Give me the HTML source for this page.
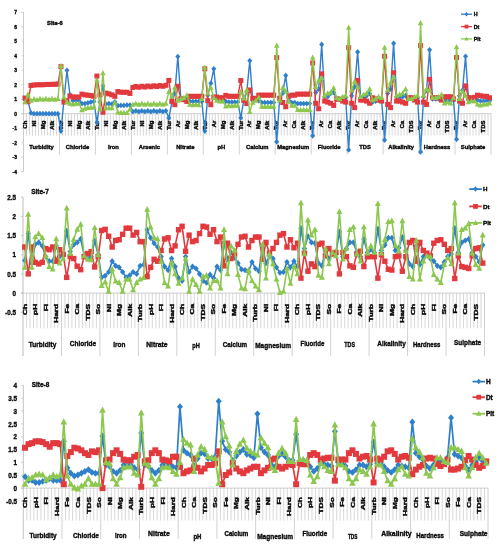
<!DOCTYPE html>
<html><head><meta charset="utf-8"><title>Site-6, Site-7, Site-8</title>
<style>
html,body{margin:0;padding:0;background:#fff;}
body{width:503px;height:550px;overflow:hidden;}
svg{display:block;font-family:'Liberation Sans', Arial, sans-serif;}
text{stroke:#0a0a0a;stroke-width:0.38px;paint-order:stroke;}
</style></head><body>
<svg width="503" height="550" viewBox="0 0 503 550">
<rect width="503" height="550" fill="#fff"/>
<g stroke="#bebebe" stroke-width="0.6">
<line x1="26.5" y1="113.7" x2="26.5" y2="135.5"/>
<line x1="29.49" y1="113.7" x2="29.49" y2="135.5"/>
<line x1="32.49" y1="113.7" x2="32.49" y2="135.5"/>
<line x1="35.49" y1="113.7" x2="35.49" y2="135.5"/>
<line x1="38.48" y1="113.7" x2="38.48" y2="135.5"/>
<line x1="41.48" y1="113.7" x2="41.48" y2="135.5"/>
<line x1="44.48" y1="113.7" x2="44.48" y2="135.5"/>
<line x1="47.47" y1="113.7" x2="47.47" y2="135.5"/>
<line x1="50.47" y1="113.7" x2="50.47" y2="135.5"/>
<line x1="53.47" y1="113.7" x2="53.47" y2="135.5"/>
<line x1="56.46" y1="113.7" x2="56.46" y2="135.5"/>
<line x1="62.46" y1="113.7" x2="62.46" y2="135.5"/>
<line x1="65.46" y1="113.7" x2="65.46" y2="135.5"/>
<line x1="68.45" y1="113.7" x2="68.45" y2="135.5"/>
<line x1="71.45" y1="113.7" x2="71.45" y2="135.5"/>
<line x1="74.45" y1="113.7" x2="74.45" y2="135.5"/>
<line x1="77.44" y1="113.7" x2="77.44" y2="135.5"/>
<line x1="80.44" y1="113.7" x2="80.44" y2="135.5"/>
<line x1="83.44" y1="113.7" x2="83.44" y2="135.5"/>
<line x1="86.43" y1="113.7" x2="86.43" y2="135.5"/>
<line x1="89.43" y1="113.7" x2="89.43" y2="135.5"/>
<line x1="92.43" y1="113.7" x2="92.43" y2="135.5"/>
<line x1="98.42" y1="113.7" x2="98.42" y2="135.5"/>
<line x1="101.42" y1="113.7" x2="101.42" y2="135.5"/>
<line x1="104.41" y1="113.7" x2="104.41" y2="135.5"/>
<line x1="107.41" y1="113.7" x2="107.41" y2="135.5"/>
<line x1="110.41" y1="113.7" x2="110.41" y2="135.5"/>
<line x1="113.4" y1="113.7" x2="113.4" y2="135.5"/>
<line x1="116.4" y1="113.7" x2="116.4" y2="135.5"/>
<line x1="119.4" y1="113.7" x2="119.4" y2="135.5"/>
<line x1="122.39" y1="113.7" x2="122.39" y2="135.5"/>
<line x1="125.39" y1="113.7" x2="125.39" y2="135.5"/>
<line x1="128.39" y1="113.7" x2="128.39" y2="135.5"/>
<line x1="134.38" y1="113.7" x2="134.38" y2="135.5"/>
<line x1="137.38" y1="113.7" x2="137.38" y2="135.5"/>
<line x1="140.38" y1="113.7" x2="140.38" y2="135.5"/>
<line x1="143.37" y1="113.7" x2="143.37" y2="135.5"/>
<line x1="146.37" y1="113.7" x2="146.37" y2="135.5"/>
<line x1="149.37" y1="113.7" x2="149.37" y2="135.5"/>
<line x1="152.36" y1="113.7" x2="152.36" y2="135.5"/>
<line x1="155.36" y1="113.7" x2="155.36" y2="135.5"/>
<line x1="158.36" y1="113.7" x2="158.36" y2="135.5"/>
<line x1="161.35" y1="113.7" x2="161.35" y2="135.5"/>
<line x1="164.35" y1="113.7" x2="164.35" y2="135.5"/>
<line x1="170.34" y1="113.7" x2="170.34" y2="135.5"/>
<line x1="173.34" y1="113.7" x2="173.34" y2="135.5"/>
<line x1="176.34" y1="113.7" x2="176.34" y2="135.5"/>
<line x1="179.33" y1="113.7" x2="179.33" y2="135.5"/>
<line x1="182.33" y1="113.7" x2="182.33" y2="135.5"/>
<line x1="185.33" y1="113.7" x2="185.33" y2="135.5"/>
<line x1="188.32" y1="113.7" x2="188.32" y2="135.5"/>
<line x1="191.32" y1="113.7" x2="191.32" y2="135.5"/>
<line x1="194.32" y1="113.7" x2="194.32" y2="135.5"/>
<line x1="197.31" y1="113.7" x2="197.31" y2="135.5"/>
<line x1="200.31" y1="113.7" x2="200.31" y2="135.5"/>
<line x1="206.3" y1="113.7" x2="206.3" y2="135.5"/>
<line x1="209.3" y1="113.7" x2="209.3" y2="135.5"/>
<line x1="212.3" y1="113.7" x2="212.3" y2="135.5"/>
<line x1="215.29" y1="113.7" x2="215.29" y2="135.5"/>
<line x1="218.29" y1="113.7" x2="218.29" y2="135.5"/>
<line x1="221.29" y1="113.7" x2="221.29" y2="135.5"/>
<line x1="224.29" y1="113.7" x2="224.29" y2="135.5"/>
<line x1="227.28" y1="113.7" x2="227.28" y2="135.5"/>
<line x1="230.28" y1="113.7" x2="230.28" y2="135.5"/>
<line x1="233.28" y1="113.7" x2="233.28" y2="135.5"/>
<line x1="236.27" y1="113.7" x2="236.27" y2="135.5"/>
<line x1="242.27" y1="113.7" x2="242.27" y2="135.5"/>
<line x1="245.26" y1="113.7" x2="245.26" y2="135.5"/>
<line x1="248.26" y1="113.7" x2="248.26" y2="135.5"/>
<line x1="251.26" y1="113.7" x2="251.26" y2="135.5"/>
<line x1="254.25" y1="113.7" x2="254.25" y2="135.5"/>
<line x1="257.25" y1="113.7" x2="257.25" y2="135.5"/>
<line x1="260.25" y1="113.7" x2="260.25" y2="135.5"/>
<line x1="263.24" y1="113.7" x2="263.24" y2="135.5"/>
<line x1="266.24" y1="113.7" x2="266.24" y2="135.5"/>
<line x1="269.24" y1="113.7" x2="269.24" y2="135.5"/>
<line x1="272.23" y1="113.7" x2="272.23" y2="135.5"/>
<line x1="278.23" y1="113.7" x2="278.23" y2="135.5"/>
<line x1="281.22" y1="113.7" x2="281.22" y2="135.5"/>
<line x1="284.22" y1="113.7" x2="284.22" y2="135.5"/>
<line x1="287.22" y1="113.7" x2="287.22" y2="135.5"/>
<line x1="290.21" y1="113.7" x2="290.21" y2="135.5"/>
<line x1="293.21" y1="113.7" x2="293.21" y2="135.5"/>
<line x1="296.21" y1="113.7" x2="296.21" y2="135.5"/>
<line x1="299.21" y1="113.7" x2="299.21" y2="135.5"/>
<line x1="302.2" y1="113.7" x2="302.2" y2="135.5"/>
<line x1="305.2" y1="113.7" x2="305.2" y2="135.5"/>
<line x1="308.2" y1="113.7" x2="308.2" y2="135.5"/>
<line x1="314.19" y1="113.7" x2="314.19" y2="135.5"/>
<line x1="317.19" y1="113.7" x2="317.19" y2="135.5"/>
<line x1="320.18" y1="113.7" x2="320.18" y2="135.5"/>
<line x1="323.18" y1="113.7" x2="323.18" y2="135.5"/>
<line x1="326.18" y1="113.7" x2="326.18" y2="135.5"/>
<line x1="329.17" y1="113.7" x2="329.17" y2="135.5"/>
<line x1="332.17" y1="113.7" x2="332.17" y2="135.5"/>
<line x1="335.17" y1="113.7" x2="335.17" y2="135.5"/>
<line x1="338.16" y1="113.7" x2="338.16" y2="135.5"/>
<line x1="341.16" y1="113.7" x2="341.16" y2="135.5"/>
<line x1="344.16" y1="113.7" x2="344.16" y2="135.5"/>
<line x1="350.15" y1="113.7" x2="350.15" y2="135.5"/>
<line x1="353.15" y1="113.7" x2="353.15" y2="135.5"/>
<line x1="356.14" y1="113.7" x2="356.14" y2="135.5"/>
<line x1="359.14" y1="113.7" x2="359.14" y2="135.5"/>
<line x1="362.14" y1="113.7" x2="362.14" y2="135.5"/>
<line x1="365.13" y1="113.7" x2="365.13" y2="135.5"/>
<line x1="368.13" y1="113.7" x2="368.13" y2="135.5"/>
<line x1="371.13" y1="113.7" x2="371.13" y2="135.5"/>
<line x1="374.12" y1="113.7" x2="374.12" y2="135.5"/>
<line x1="377.12" y1="113.7" x2="377.12" y2="135.5"/>
<line x1="380.12" y1="113.7" x2="380.12" y2="135.5"/>
<line x1="386.11" y1="113.7" x2="386.11" y2="135.5"/>
<line x1="389.11" y1="113.7" x2="389.11" y2="135.5"/>
<line x1="392.11" y1="113.7" x2="392.11" y2="135.5"/>
<line x1="395.1" y1="113.7" x2="395.1" y2="135.5"/>
<line x1="398.1" y1="113.7" x2="398.1" y2="135.5"/>
<line x1="401.1" y1="113.7" x2="401.1" y2="135.5"/>
<line x1="404.09" y1="113.7" x2="404.09" y2="135.5"/>
<line x1="407.09" y1="113.7" x2="407.09" y2="135.5"/>
<line x1="410.09" y1="113.7" x2="410.09" y2="135.5"/>
<line x1="413.08" y1="113.7" x2="413.08" y2="135.5"/>
<line x1="416.08" y1="113.7" x2="416.08" y2="135.5"/>
<line x1="422.07" y1="113.7" x2="422.07" y2="135.5"/>
<line x1="425.07" y1="113.7" x2="425.07" y2="135.5"/>
<line x1="428.07" y1="113.7" x2="428.07" y2="135.5"/>
<line x1="431.06" y1="113.7" x2="431.06" y2="135.5"/>
<line x1="434.06" y1="113.7" x2="434.06" y2="135.5"/>
<line x1="437.06" y1="113.7" x2="437.06" y2="135.5"/>
<line x1="440.05" y1="113.7" x2="440.05" y2="135.5"/>
<line x1="443.05" y1="113.7" x2="443.05" y2="135.5"/>
<line x1="446.05" y1="113.7" x2="446.05" y2="135.5"/>
<line x1="449.04" y1="113.7" x2="449.04" y2="135.5"/>
<line x1="452.04" y1="113.7" x2="452.04" y2="135.5"/>
<line x1="458.04" y1="113.7" x2="458.04" y2="135.5"/>
<line x1="461.03" y1="113.7" x2="461.03" y2="135.5"/>
<line x1="464.03" y1="113.7" x2="464.03" y2="135.5"/>
<line x1="467.03" y1="113.7" x2="467.03" y2="135.5"/>
<line x1="470.02" y1="113.7" x2="470.02" y2="135.5"/>
<line x1="473.02" y1="113.7" x2="473.02" y2="135.5"/>
<line x1="476.02" y1="113.7" x2="476.02" y2="135.5"/>
<line x1="479.01" y1="113.7" x2="479.01" y2="135.5"/>
<line x1="482.01" y1="113.7" x2="482.01" y2="135.5"/>
<line x1="485.01" y1="113.7" x2="485.01" y2="135.5"/>
<line x1="488" y1="113.7" x2="488" y2="135.5"/>
</g>
<g stroke="#b4b4b4" stroke-width="0.6">
<line x1="59.46" y1="113.7" x2="59.46" y2="154.5"/>
<line x1="95.42" y1="113.7" x2="95.42" y2="154.5"/>
<line x1="131.38" y1="113.7" x2="131.38" y2="154.5"/>
<line x1="167.35" y1="113.7" x2="167.35" y2="154.5"/>
<line x1="203.31" y1="113.7" x2="203.31" y2="154.5"/>
<line x1="239.27" y1="113.7" x2="239.27" y2="154.5"/>
<line x1="275.23" y1="113.7" x2="275.23" y2="154.5"/>
<line x1="311.19" y1="113.7" x2="311.19" y2="154.5"/>
<line x1="347.15" y1="113.7" x2="347.15" y2="154.5"/>
<line x1="383.12" y1="113.7" x2="383.12" y2="154.5"/>
<line x1="419.08" y1="113.7" x2="419.08" y2="154.5"/>
<line x1="455.04" y1="113.7" x2="455.04" y2="154.5"/>
<line x1="491" y1="113.7" x2="491" y2="154.5"/>
</g>
<line x1="21.3" y1="113.7" x2="491" y2="113.7" stroke="#c0c0c0" stroke-width="0.8"/>
<line x1="23.5" y1="12" x2="23.5" y2="171.5" stroke="#c6c6c6" stroke-width="0.9"/>
<g stroke="#c6c6c6" stroke-width="0.7">
<line x1="21.3" y1="12.34" x2="23.5" y2="12.34"/>
<line x1="21.3" y1="26.82" x2="23.5" y2="26.82"/>
<line x1="21.3" y1="41.3" x2="23.5" y2="41.3"/>
<line x1="21.3" y1="55.78" x2="23.5" y2="55.78"/>
<line x1="21.3" y1="70.26" x2="23.5" y2="70.26"/>
<line x1="21.3" y1="84.74" x2="23.5" y2="84.74"/>
<line x1="21.3" y1="99.22" x2="23.5" y2="99.22"/>
<line x1="21.3" y1="113.7" x2="23.5" y2="113.7"/>
<line x1="21.3" y1="128.18" x2="23.5" y2="128.18"/>
<line x1="21.3" y1="142.66" x2="23.5" y2="142.66"/>
<line x1="21.3" y1="157.14" x2="23.5" y2="157.14"/>
<line x1="21.3" y1="171.62" x2="23.5" y2="171.62"/>
</g>
<g font-size="5.6" font-weight="bold" text-anchor="end" fill="#0a0a0a">
<text transform="translate(17 14.36) scale(0.88 1)">7</text>
<text transform="translate(17 28.84) scale(0.88 1)">6</text>
<text transform="translate(17 43.32) scale(0.88 1)">5</text>
<text transform="translate(17 57.8) scale(0.88 1)">4</text>
<text transform="translate(17 72.28) scale(0.88 1)">3</text>
<text transform="translate(17 86.76) scale(0.88 1)">2</text>
<text transform="translate(17 101.24) scale(0.88 1)">1</text>
<text transform="translate(17 115.72) scale(0.88 1)">0</text>
<text transform="translate(17 130.2) scale(0.88 1)">-1</text>
<text transform="translate(17 144.68) scale(0.88 1)">-2</text>
<text transform="translate(17 159.16) scale(0.88 1)">-3</text>
<text transform="translate(17 173.64) scale(0.88 1)">-4</text>
</g>
<g font-size="4.8" font-weight="bold" fill="#0a0a0a" text-anchor="end">
<text transform="translate(26.73 120.7) rotate(-90) scale(1.22 1)">Ch</text>
<text transform="translate(35.72 120.7) rotate(-90) scale(1.22 1)">NI</text>
<text transform="translate(44.71 120.7) rotate(-90) scale(1.22 1)">Mg</text>
<text transform="translate(53.7 120.7) rotate(-90) scale(1.22 1)">Alk</text>
<text transform="translate(62.69 120.7) rotate(-90) scale(1.22 1)">Tur</text>
<text transform="translate(71.68 120.7) rotate(-90) scale(1.22 1)">NI</text>
<text transform="translate(80.67 120.7) rotate(-90) scale(1.22 1)">Mg</text>
<text transform="translate(89.66 120.7) rotate(-90) scale(1.22 1)">Alk</text>
<text transform="translate(98.65 120.7) rotate(-90) scale(1.22 1)">Tur</text>
<text transform="translate(107.64 120.7) rotate(-90) scale(1.22 1)">NI</text>
<text transform="translate(116.63 120.7) rotate(-90) scale(1.22 1)">Mg</text>
<text transform="translate(125.62 120.7) rotate(-90) scale(1.22 1)">Alk</text>
<text transform="translate(134.61 120.7) rotate(-90) scale(1.22 1)">Tur</text>
<text transform="translate(143.6 120.7) rotate(-90) scale(1.22 1)">NI</text>
<text transform="translate(152.59 120.7) rotate(-90) scale(1.22 1)">Mg</text>
<text transform="translate(161.58 120.7) rotate(-90) scale(1.22 1)">Alk</text>
<text transform="translate(170.57 120.7) rotate(-90) scale(1.22 1)">Tur</text>
<text transform="translate(179.56 120.7) rotate(-90) scale(1.22 1)">Ar</text>
<text transform="translate(188.55 120.7) rotate(-90) scale(1.22 1)">Mg</text>
<text transform="translate(197.54 120.7) rotate(-90) scale(1.22 1)">Alk</text>
<text transform="translate(206.53 120.7) rotate(-90) scale(1.22 1)">Tur</text>
<text transform="translate(215.52 120.7) rotate(-90) scale(1.22 1)">Ar</text>
<text transform="translate(224.51 120.7) rotate(-90) scale(1.22 1)">Mg</text>
<text transform="translate(233.51 120.7) rotate(-90) scale(1.22 1)">Alk</text>
<text transform="translate(242.5 120.7) rotate(-90) scale(1.22 1)">Tur</text>
<text transform="translate(251.49 120.7) rotate(-90) scale(1.22 1)">Ar</text>
<text transform="translate(260.48 120.7) rotate(-90) scale(1.22 1)">Mg</text>
<text transform="translate(269.47 120.7) rotate(-90) scale(1.22 1)">Alk</text>
<text transform="translate(278.46 120.7) rotate(-90) scale(1.22 1)">Tur</text>
<text transform="translate(287.45 120.7) rotate(-90) scale(1.22 1)">Ar</text>
<text transform="translate(296.44 120.7) rotate(-90) scale(1.22 1)">Ca</text>
<text transform="translate(305.43 120.7) rotate(-90) scale(1.22 1)">Alk</text>
<text transform="translate(314.42 120.7) rotate(-90) scale(1.22 1)">Tur</text>
<text transform="translate(323.41 120.7) rotate(-90) scale(1.22 1)">Ar</text>
<text transform="translate(332.4 120.7) rotate(-90) scale(1.22 1)">Ca</text>
<text transform="translate(341.39 120.7) rotate(-90) scale(1.22 1)">Alk</text>
<text transform="translate(350.38 120.7) rotate(-90) scale(1.22 1)">Tur</text>
<text transform="translate(359.37 120.7) rotate(-90) scale(1.22 1)">Ar</text>
<text transform="translate(368.36 120.7) rotate(-90) scale(1.22 1)">Ca</text>
<text transform="translate(377.35 120.7) rotate(-90) scale(1.22 1)">Alk</text>
<text transform="translate(386.34 120.7) rotate(-90) scale(1.22 1)">Tur</text>
<text transform="translate(395.33 120.7) rotate(-90) scale(1.22 1)">Ar</text>
<text transform="translate(404.32 120.7) rotate(-90) scale(1.22 1)">Ca</text>
<text transform="translate(413.31 120.7) rotate(-90) scale(1.22 1)">TDS</text>
<text transform="translate(422.3 120.7) rotate(-90) scale(1.22 1)">Tur</text>
<text transform="translate(431.29 120.7) rotate(-90) scale(1.22 1)">Ar</text>
<text transform="translate(440.28 120.7) rotate(-90) scale(1.22 1)">Ca</text>
<text transform="translate(449.27 120.7) rotate(-90) scale(1.22 1)">TDS</text>
<text transform="translate(458.26 120.7) rotate(-90) scale(1.22 1)">Tur</text>
<text transform="translate(467.26 120.7) rotate(-90) scale(1.22 1)">Ar</text>
<text transform="translate(476.25 120.7) rotate(-90) scale(1.22 1)">Ca</text>
<text transform="translate(485.24 120.7) rotate(-90) scale(1.22 1)">TDS</text>
</g>
<g font-size="5.8" font-weight="bold" fill="#0a0a0a" text-anchor="middle">
<text transform="translate(41.48 149) scale(1 1)">Turbidity</text>
<text transform="translate(77.44 149) scale(1 1)">Chloride</text>
<text transform="translate(113.4 149) scale(1 1)">Iron</text>
<text transform="translate(149.37 149) scale(1 1)">Arsenic</text>
<text transform="translate(185.33 149) scale(1 1)">Nitrate</text>
<text transform="translate(221.29 149) scale(1 1)">pH</text>
<text transform="translate(257.25 149) scale(1 1)">Calcium</text>
<text transform="translate(293.21 149) scale(1 1)">Magnesium</text>
<text transform="translate(329.17 149) scale(1 1)">Fluoride</text>
<text transform="translate(365.13 149) scale(1 1)">TDS</text>
<text transform="translate(401.1 149) scale(1 1)">Alkalinity</text>
<text transform="translate(437.06 149) scale(1 1)">Hardness</text>
<text transform="translate(473.02 149) scale(1 1)">Sulphate</text>
</g>
<text transform="translate(47 25.1) scale(0.97 1)" font-size="6.0" font-weight="bold" fill="#0a0a0a">Site-6</text>
<polyline points="25,99.22 28,101.39 30.99,112.98 33.99,113.7 36.99,113.7 39.98,113.7 42.98,113.7 45.98,113.7 48.97,113.7 51.97,113.7 54.97,113.7 57.96,113.7 60.96,131.08 63.96,99.94 66.95,70.26 69.95,94.88 72.95,100.67 75.94,100.67 78.94,100.67 81.94,103.56 84.93,103.56 87.93,102.84 90.93,102.12 93.92,101.39 96.92,122.39 99.92,102.12 102.92,85.9 105.91,104.14 108.91,103.56 111.91,104.14 114.9,101.83 117.9,105.74 120.9,105.45 123.89,105.45 126.89,105.01 129.89,105.01 132.88,111.67 135.88,110.8 138.88,111.67 141.87,110.8 144.87,111.67 147.87,110.8 150.86,111.67 153.86,110.8 156.86,111.67 159.85,110.8 162.85,111.67 165.85,110.8 168.84,118.04 171.84,102.12 174.84,93.43 177.83,56.5 180.83,98.79 183.83,99.65 186.83,97.77 189.82,101.39 192.82,101.39 195.82,101.39 198.81,101.39 201.81,101.39 204.81,131.08 207.8,95.31 210.8,83.29 213.8,68.81 216.79,97.77 219.79,99.94 222.79,99.94 225.78,101.39 228.78,102.12 231.78,102.12 234.77,102.12 237.77,102.12 240.77,117.9 243.76,100.38 246.76,91.98 249.76,60.7 252.75,100.38 255.75,99.22 258.75,100.67 261.75,102.55 264.74,102.55 267.74,102.55 270.74,102.55 273.73,102.55 276.73,141.79 279.73,97.34 282.72,93.14 285.72,75.47 288.72,100.38 291.71,102.55 294.71,102.55 297.71,103.56 300.7,103.56 303.7,103.56 306.7,103.56 309.69,103.56 312.69,135.85 315.69,92.41 318.68,89.08 321.68,44.49 324.68,96.76 327.67,96.76 330.67,93.43 333.67,92.41 336.67,99.22 339.66,99.22 342.66,99.22 345.66,97.77 348.65,149.9 351.65,95.74 354.65,86.91 357.64,51.87 360.64,97.92 363.64,97.92 366.63,95.74 369.63,93.43 372.63,102.12 375.62,101.1 378.62,100.09 381.62,100.09 384.61,140.05 387.61,93.43 390.61,89.08 393.6,43.33 396.6,96.76 399.6,97.34 402.59,96.76 405.59,95.74 408.59,98.93 411.58,97.92 414.58,97.92 417.58,97.92 420.58,151.93 423.57,96.76 426.57,90.24 429.57,49.84 432.56,98.93 435.56,98.93 438.56,98.93 441.55,98.93 444.55,101.1 447.55,100.09 450.54,101.1 453.54,100.09 456.54,139.33 459.53,95.74 462.53,90.24 465.53,56.36 468.52,100.09 471.52,99.22 474.52,100.09 477.51,100.09 480.51,101.1 483.51,101.1 486.5,100.67 489.5,101.1" fill="none" stroke="#2f7fcb" stroke-width="1.4" stroke-linejoin="round"/>
<g fill="#2f7fcb">
<path d="M25 96.34l2.5 2.88 l-2.5 2.88 l-2.5 -2.88 z"/>
<path d="M28 98.52l2.5 2.88 l-2.5 2.88 l-2.5 -2.88 z"/>
<path d="M30.99 110.1l2.5 2.88 l-2.5 2.88 l-2.5 -2.88 z"/>
<path d="M33.99 110.83l2.5 2.88 l-2.5 2.88 l-2.5 -2.88 z"/>
<path d="M36.99 110.83l2.5 2.88 l-2.5 2.88 l-2.5 -2.88 z"/>
<path d="M39.98 110.83l2.5 2.88 l-2.5 2.88 l-2.5 -2.88 z"/>
<path d="M42.98 110.83l2.5 2.88 l-2.5 2.88 l-2.5 -2.88 z"/>
<path d="M45.98 110.83l2.5 2.88 l-2.5 2.88 l-2.5 -2.88 z"/>
<path d="M48.97 110.83l2.5 2.88 l-2.5 2.88 l-2.5 -2.88 z"/>
<path d="M51.97 110.83l2.5 2.88 l-2.5 2.88 l-2.5 -2.88 z"/>
<path d="M54.97 110.83l2.5 2.88 l-2.5 2.88 l-2.5 -2.88 z"/>
<path d="M57.96 110.83l2.5 2.88 l-2.5 2.88 l-2.5 -2.88 z"/>
<path d="M60.96 128.2l2.5 2.88 l-2.5 2.88 l-2.5 -2.88 z"/>
<path d="M63.96 97.07l2.5 2.88 l-2.5 2.88 l-2.5 -2.88 z"/>
<path d="M66.95 67.39l2.5 2.88 l-2.5 2.88 l-2.5 -2.88 z"/>
<path d="M69.95 92l2.5 2.88 l-2.5 2.88 l-2.5 -2.88 z"/>
<path d="M72.95 97.79l2.5 2.88 l-2.5 2.88 l-2.5 -2.88 z"/>
<path d="M75.94 97.79l2.5 2.88 l-2.5 2.88 l-2.5 -2.88 z"/>
<path d="M78.94 97.79l2.5 2.88 l-2.5 2.88 l-2.5 -2.88 z"/>
<path d="M81.94 100.69l2.5 2.88 l-2.5 2.88 l-2.5 -2.88 z"/>
<path d="M84.93 100.69l2.5 2.88 l-2.5 2.88 l-2.5 -2.88 z"/>
<path d="M87.93 99.97l2.5 2.88 l-2.5 2.88 l-2.5 -2.88 z"/>
<path d="M90.93 99.24l2.5 2.88 l-2.5 2.88 l-2.5 -2.88 z"/>
<path d="M93.92 98.52l2.5 2.88 l-2.5 2.88 l-2.5 -2.88 z"/>
<path d="M96.92 119.51l2.5 2.88 l-2.5 2.88 l-2.5 -2.88 z"/>
<path d="M99.92 99.24l2.5 2.88 l-2.5 2.88 l-2.5 -2.88 z"/>
<path d="M102.92 83.02l2.5 2.88 l-2.5 2.88 l-2.5 -2.88 z"/>
<path d="M105.91 101.27l2.5 2.88 l-2.5 2.88 l-2.5 -2.88 z"/>
<path d="M108.91 100.69l2.5 2.88 l-2.5 2.88 l-2.5 -2.88 z"/>
<path d="M111.91 101.27l2.5 2.88 l-2.5 2.88 l-2.5 -2.88 z"/>
<path d="M114.9 98.95l2.5 2.88 l-2.5 2.88 l-2.5 -2.88 z"/>
<path d="M117.9 102.86l2.5 2.88 l-2.5 2.88 l-2.5 -2.88 z"/>
<path d="M120.9 102.57l2.5 2.88 l-2.5 2.88 l-2.5 -2.88 z"/>
<path d="M123.89 102.57l2.5 2.88 l-2.5 2.88 l-2.5 -2.88 z"/>
<path d="M126.89 102.14l2.5 2.88 l-2.5 2.88 l-2.5 -2.88 z"/>
<path d="M129.89 102.14l2.5 2.88 l-2.5 2.88 l-2.5 -2.88 z"/>
<path d="M132.88 108.8l2.5 2.88 l-2.5 2.88 l-2.5 -2.88 z"/>
<path d="M135.88 107.93l2.5 2.88 l-2.5 2.88 l-2.5 -2.88 z"/>
<path d="M138.88 108.8l2.5 2.88 l-2.5 2.88 l-2.5 -2.88 z"/>
<path d="M141.87 107.93l2.5 2.88 l-2.5 2.88 l-2.5 -2.88 z"/>
<path d="M144.87 108.8l2.5 2.88 l-2.5 2.88 l-2.5 -2.88 z"/>
<path d="M147.87 107.93l2.5 2.88 l-2.5 2.88 l-2.5 -2.88 z"/>
<path d="M150.86 108.8l2.5 2.88 l-2.5 2.88 l-2.5 -2.88 z"/>
<path d="M153.86 107.93l2.5 2.88 l-2.5 2.88 l-2.5 -2.88 z"/>
<path d="M156.86 108.8l2.5 2.88 l-2.5 2.88 l-2.5 -2.88 z"/>
<path d="M159.85 107.93l2.5 2.88 l-2.5 2.88 l-2.5 -2.88 z"/>
<path d="M162.85 108.8l2.5 2.88 l-2.5 2.88 l-2.5 -2.88 z"/>
<path d="M165.85 107.93l2.5 2.88 l-2.5 2.88 l-2.5 -2.88 z"/>
<path d="M168.84 115.17l2.5 2.88 l-2.5 2.88 l-2.5 -2.88 z"/>
<path d="M171.84 99.24l2.5 2.88 l-2.5 2.88 l-2.5 -2.88 z"/>
<path d="M174.84 90.55l2.5 2.88 l-2.5 2.88 l-2.5 -2.88 z"/>
<path d="M177.83 53.63l2.5 2.88 l-2.5 2.88 l-2.5 -2.88 z"/>
<path d="M180.83 95.91l2.5 2.88 l-2.5 2.88 l-2.5 -2.88 z"/>
<path d="M183.83 96.78l2.5 2.88 l-2.5 2.88 l-2.5 -2.88 z"/>
<path d="M186.83 94.9l2.5 2.88 l-2.5 2.88 l-2.5 -2.88 z"/>
<path d="M189.82 98.52l2.5 2.88 l-2.5 2.88 l-2.5 -2.88 z"/>
<path d="M192.82 98.52l2.5 2.88 l-2.5 2.88 l-2.5 -2.88 z"/>
<path d="M195.82 98.52l2.5 2.88 l-2.5 2.88 l-2.5 -2.88 z"/>
<path d="M198.81 98.52l2.5 2.88 l-2.5 2.88 l-2.5 -2.88 z"/>
<path d="M201.81 98.52l2.5 2.88 l-2.5 2.88 l-2.5 -2.88 z"/>
<path d="M204.81 128.2l2.5 2.88 l-2.5 2.88 l-2.5 -2.88 z"/>
<path d="M207.8 92.44l2.5 2.88 l-2.5 2.88 l-2.5 -2.88 z"/>
<path d="M210.8 80.42l2.5 2.88 l-2.5 2.88 l-2.5 -2.88 z"/>
<path d="M213.8 65.94l2.5 2.88 l-2.5 2.88 l-2.5 -2.88 z"/>
<path d="M216.79 94.9l2.5 2.88 l-2.5 2.88 l-2.5 -2.88 z"/>
<path d="M219.79 97.07l2.5 2.88 l-2.5 2.88 l-2.5 -2.88 z"/>
<path d="M222.79 97.07l2.5 2.88 l-2.5 2.88 l-2.5 -2.88 z"/>
<path d="M225.78 98.52l2.5 2.88 l-2.5 2.88 l-2.5 -2.88 z"/>
<path d="M228.78 99.24l2.5 2.88 l-2.5 2.88 l-2.5 -2.88 z"/>
<path d="M231.78 99.24l2.5 2.88 l-2.5 2.88 l-2.5 -2.88 z"/>
<path d="M234.77 99.24l2.5 2.88 l-2.5 2.88 l-2.5 -2.88 z"/>
<path d="M237.77 99.24l2.5 2.88 l-2.5 2.88 l-2.5 -2.88 z"/>
<path d="M240.77 115.02l2.5 2.88 l-2.5 2.88 l-2.5 -2.88 z"/>
<path d="M243.76 97.5l2.5 2.88 l-2.5 2.88 l-2.5 -2.88 z"/>
<path d="M246.76 89.11l2.5 2.88 l-2.5 2.88 l-2.5 -2.88 z"/>
<path d="M249.76 57.83l2.5 2.88 l-2.5 2.88 l-2.5 -2.88 z"/>
<path d="M252.75 97.5l2.5 2.88 l-2.5 2.88 l-2.5 -2.88 z"/>
<path d="M255.75 96.34l2.5 2.88 l-2.5 2.88 l-2.5 -2.88 z"/>
<path d="M258.75 97.79l2.5 2.88 l-2.5 2.88 l-2.5 -2.88 z"/>
<path d="M261.75 99.68l2.5 2.88 l-2.5 2.88 l-2.5 -2.88 z"/>
<path d="M264.74 99.68l2.5 2.88 l-2.5 2.88 l-2.5 -2.88 z"/>
<path d="M267.74 99.68l2.5 2.88 l-2.5 2.88 l-2.5 -2.88 z"/>
<path d="M270.74 99.68l2.5 2.88 l-2.5 2.88 l-2.5 -2.88 z"/>
<path d="M273.73 99.68l2.5 2.88 l-2.5 2.88 l-2.5 -2.88 z"/>
<path d="M276.73 138.92l2.5 2.88 l-2.5 2.88 l-2.5 -2.88 z"/>
<path d="M279.73 94.46l2.5 2.88 l-2.5 2.88 l-2.5 -2.88 z"/>
<path d="M282.72 90.26l2.5 2.88 l-2.5 2.88 l-2.5 -2.88 z"/>
<path d="M285.72 72.6l2.5 2.88 l-2.5 2.88 l-2.5 -2.88 z"/>
<path d="M288.72 97.5l2.5 2.88 l-2.5 2.88 l-2.5 -2.88 z"/>
<path d="M291.71 99.68l2.5 2.88 l-2.5 2.88 l-2.5 -2.88 z"/>
<path d="M294.71 99.68l2.5 2.88 l-2.5 2.88 l-2.5 -2.88 z"/>
<path d="M297.71 100.69l2.5 2.88 l-2.5 2.88 l-2.5 -2.88 z"/>
<path d="M300.7 100.69l2.5 2.88 l-2.5 2.88 l-2.5 -2.88 z"/>
<path d="M303.7 100.69l2.5 2.88 l-2.5 2.88 l-2.5 -2.88 z"/>
<path d="M306.7 100.69l2.5 2.88 l-2.5 2.88 l-2.5 -2.88 z"/>
<path d="M309.69 100.69l2.5 2.88 l-2.5 2.88 l-2.5 -2.88 z"/>
<path d="M312.69 132.98l2.5 2.88 l-2.5 2.88 l-2.5 -2.88 z"/>
<path d="M315.69 89.54l2.5 2.88 l-2.5 2.88 l-2.5 -2.88 z"/>
<path d="M318.68 86.21l2.5 2.88 l-2.5 2.88 l-2.5 -2.88 z"/>
<path d="M321.68 41.61l2.5 2.88 l-2.5 2.88 l-2.5 -2.88 z"/>
<path d="M324.68 93.88l2.5 2.88 l-2.5 2.88 l-2.5 -2.88 z"/>
<path d="M327.67 93.88l2.5 2.88 l-2.5 2.88 l-2.5 -2.88 z"/>
<path d="M330.67 90.55l2.5 2.88 l-2.5 2.88 l-2.5 -2.88 z"/>
<path d="M333.67 89.54l2.5 2.88 l-2.5 2.88 l-2.5 -2.88 z"/>
<path d="M336.67 96.34l2.5 2.88 l-2.5 2.88 l-2.5 -2.88 z"/>
<path d="M339.66 96.34l2.5 2.88 l-2.5 2.88 l-2.5 -2.88 z"/>
<path d="M342.66 96.34l2.5 2.88 l-2.5 2.88 l-2.5 -2.88 z"/>
<path d="M345.66 94.9l2.5 2.88 l-2.5 2.88 l-2.5 -2.88 z"/>
<path d="M348.65 147.03l2.5 2.88 l-2.5 2.88 l-2.5 -2.88 z"/>
<path d="M351.65 92.87l2.5 2.88 l-2.5 2.88 l-2.5 -2.88 z"/>
<path d="M354.65 84.04l2.5 2.88 l-2.5 2.88 l-2.5 -2.88 z"/>
<path d="M357.64 49l2.5 2.88 l-2.5 2.88 l-2.5 -2.88 z"/>
<path d="M360.64 95.04l2.5 2.88 l-2.5 2.88 l-2.5 -2.88 z"/>
<path d="M363.64 95.04l2.5 2.88 l-2.5 2.88 l-2.5 -2.88 z"/>
<path d="M366.63 92.87l2.5 2.88 l-2.5 2.88 l-2.5 -2.88 z"/>
<path d="M369.63 90.55l2.5 2.88 l-2.5 2.88 l-2.5 -2.88 z"/>
<path d="M372.63 99.24l2.5 2.88 l-2.5 2.88 l-2.5 -2.88 z"/>
<path d="M375.62 98.23l2.5 2.88 l-2.5 2.88 l-2.5 -2.88 z"/>
<path d="M378.62 97.21l2.5 2.88 l-2.5 2.88 l-2.5 -2.88 z"/>
<path d="M381.62 97.21l2.5 2.88 l-2.5 2.88 l-2.5 -2.88 z"/>
<path d="M384.61 137.18l2.5 2.88 l-2.5 2.88 l-2.5 -2.88 z"/>
<path d="M387.61 90.55l2.5 2.88 l-2.5 2.88 l-2.5 -2.88 z"/>
<path d="M390.61 86.21l2.5 2.88 l-2.5 2.88 l-2.5 -2.88 z"/>
<path d="M393.6 40.45l2.5 2.88 l-2.5 2.88 l-2.5 -2.88 z"/>
<path d="M396.6 93.88l2.5 2.88 l-2.5 2.88 l-2.5 -2.88 z"/>
<path d="M399.6 94.46l2.5 2.88 l-2.5 2.88 l-2.5 -2.88 z"/>
<path d="M402.59 93.88l2.5 2.88 l-2.5 2.88 l-2.5 -2.88 z"/>
<path d="M405.59 92.87l2.5 2.88 l-2.5 2.88 l-2.5 -2.88 z"/>
<path d="M408.59 96.06l2.5 2.88 l-2.5 2.88 l-2.5 -2.88 z"/>
<path d="M411.58 95.04l2.5 2.88 l-2.5 2.88 l-2.5 -2.88 z"/>
<path d="M414.58 95.04l2.5 2.88 l-2.5 2.88 l-2.5 -2.88 z"/>
<path d="M417.58 95.04l2.5 2.88 l-2.5 2.88 l-2.5 -2.88 z"/>
<path d="M420.58 149.05l2.5 2.88 l-2.5 2.88 l-2.5 -2.88 z"/>
<path d="M423.57 93.88l2.5 2.88 l-2.5 2.88 l-2.5 -2.88 z"/>
<path d="M426.57 87.37l2.5 2.88 l-2.5 2.88 l-2.5 -2.88 z"/>
<path d="M429.57 46.97l2.5 2.88 l-2.5 2.88 l-2.5 -2.88 z"/>
<path d="M432.56 96.06l2.5 2.88 l-2.5 2.88 l-2.5 -2.88 z"/>
<path d="M435.56 96.06l2.5 2.88 l-2.5 2.88 l-2.5 -2.88 z"/>
<path d="M438.56 96.06l2.5 2.88 l-2.5 2.88 l-2.5 -2.88 z"/>
<path d="M441.55 96.06l2.5 2.88 l-2.5 2.88 l-2.5 -2.88 z"/>
<path d="M444.55 98.23l2.5 2.88 l-2.5 2.88 l-2.5 -2.88 z"/>
<path d="M447.55 97.21l2.5 2.88 l-2.5 2.88 l-2.5 -2.88 z"/>
<path d="M450.54 98.23l2.5 2.88 l-2.5 2.88 l-2.5 -2.88 z"/>
<path d="M453.54 97.21l2.5 2.88 l-2.5 2.88 l-2.5 -2.88 z"/>
<path d="M456.54 136.45l2.5 2.88 l-2.5 2.88 l-2.5 -2.88 z"/>
<path d="M459.53 92.87l2.5 2.88 l-2.5 2.88 l-2.5 -2.88 z"/>
<path d="M462.53 87.37l2.5 2.88 l-2.5 2.88 l-2.5 -2.88 z"/>
<path d="M465.53 53.48l2.5 2.88 l-2.5 2.88 l-2.5 -2.88 z"/>
<path d="M468.52 97.21l2.5 2.88 l-2.5 2.88 l-2.5 -2.88 z"/>
<path d="M471.52 96.34l2.5 2.88 l-2.5 2.88 l-2.5 -2.88 z"/>
<path d="M474.52 97.21l2.5 2.88 l-2.5 2.88 l-2.5 -2.88 z"/>
<path d="M477.51 97.21l2.5 2.88 l-2.5 2.88 l-2.5 -2.88 z"/>
<path d="M480.51 98.23l2.5 2.88 l-2.5 2.88 l-2.5 -2.88 z"/>
<path d="M483.51 98.23l2.5 2.88 l-2.5 2.88 l-2.5 -2.88 z"/>
<path d="M486.5 97.79l2.5 2.88 l-2.5 2.88 l-2.5 -2.88 z"/>
<path d="M489.5 98.23l2.5 2.88 l-2.5 2.88 l-2.5 -2.88 z"/>
</g>
<polyline points="25,98.06 28,101.68 30.99,85.46 33.99,85.03 36.99,84.74 39.98,84.74 42.98,84.74 45.98,84.45 48.97,84.45 51.97,84.31 54.97,84.31 57.96,84.02 60.96,66.64 63.96,102.12 66.95,100.67 69.95,95.89 72.95,97.05 75.94,97.05 78.94,97.05 81.94,94.15 84.93,94.88 87.93,95.17 90.93,95.6 93.92,96.32 96.92,76.05 99.92,94.88 102.92,112.25 105.91,93.14 108.91,93.86 111.91,94.88 114.9,96.32 117.9,91.55 120.9,92.27 123.89,92.27 126.89,92.27 129.89,93.43 132.88,87.49 135.88,86.5 138.88,87.25 141.87,86.27 144.87,87.02 147.87,86.03 150.86,86.78 153.86,85.79 156.86,86.54 159.85,85.56 162.85,86.31 165.85,85.32 168.84,80.4 171.84,101.39 174.84,104.72 177.83,86.19 180.83,98.79 183.83,99.65 186.83,101.39 189.82,96.32 192.82,96.32 195.82,96.32 198.81,96.32 201.81,96.32 204.81,68.81 207.8,100.67 210.8,104.72 213.8,97.05 216.79,97.05 219.79,97.77 222.79,97.77 225.78,95.31 228.78,96.32 231.78,96.32 234.77,96.32 237.77,96.32 240.77,80.54 243.76,100.38 246.76,103.56 249.76,89.95 252.75,98.35 255.75,98.35 258.75,95.17 261.75,95.17 264.74,95.17 267.74,95.17 270.74,95.17 273.73,95.17 276.73,57.66 279.73,98.35 282.72,102.55 285.72,106.75 288.72,96.32 291.71,95.17 294.71,95.17 297.71,94.15 300.7,94.15 303.7,94.15 306.7,94.15 309.69,94.15 312.69,63.02 315.69,103.27 318.68,108.78 321.68,73.88 324.68,101.1 327.67,102.12 330.67,103.27 333.67,105.45 336.67,98.93 339.66,99.22 342.66,101.1 345.66,102.12 348.65,47.67 351.65,103.27 354.65,107.62 357.64,80.4 360.64,100.09 363.64,100.09 366.63,101.1 369.63,103.27 372.63,97.77 375.62,98.93 378.62,100.09 381.62,101.1 384.61,56.36 387.61,104.43 390.61,107.62 393.6,72.72 396.6,101.1 399.6,101.1 402.59,102.12 405.59,103.27 408.59,97.77 411.58,97.77 414.58,100.09 417.58,102.12 420.58,45.64 423.57,102.12 426.57,104.43 429.57,79.38 432.56,97.77 435.56,97.77 438.56,97.77 441.55,100.09 444.55,96.76 447.55,96.76 450.54,96.76 453.54,98.93 456.54,57.52 459.53,101.1 462.53,103.27 465.53,85.9 468.52,97.77 471.52,97.77 474.52,97.34 477.51,95.17 480.51,95.74 483.51,96.32 486.5,96.32 489.5,97.77" fill="none" stroke="#e2393e" stroke-width="1.4" stroke-linejoin="round"/>
<g fill="#e2393e">
<rect x="22.5" y="95.56" width="5" height="5"/>
<rect x="25.5" y="99.18" width="5" height="5"/>
<rect x="28.49" y="82.96" width="5" height="5"/>
<rect x="31.49" y="82.53" width="5" height="5"/>
<rect x="34.49" y="82.24" width="5" height="5"/>
<rect x="37.48" y="82.24" width="5" height="5"/>
<rect x="40.48" y="82.24" width="5" height="5"/>
<rect x="43.48" y="81.95" width="5" height="5"/>
<rect x="46.47" y="81.95" width="5" height="5"/>
<rect x="49.47" y="81.81" width="5" height="5"/>
<rect x="52.47" y="81.81" width="5" height="5"/>
<rect x="55.46" y="81.52" width="5" height="5"/>
<rect x="58.46" y="64.14" width="5" height="5"/>
<rect x="61.46" y="99.62" width="5" height="5"/>
<rect x="64.45" y="98.17" width="5" height="5"/>
<rect x="67.45" y="93.39" width="5" height="5"/>
<rect x="70.45" y="94.55" width="5" height="5"/>
<rect x="73.44" y="94.55" width="5" height="5"/>
<rect x="76.44" y="94.55" width="5" height="5"/>
<rect x="79.44" y="91.65" width="5" height="5"/>
<rect x="82.43" y="92.38" width="5" height="5"/>
<rect x="85.43" y="92.67" width="5" height="5"/>
<rect x="88.43" y="93.1" width="5" height="5"/>
<rect x="91.42" y="93.82" width="5" height="5"/>
<rect x="94.42" y="73.55" width="5" height="5"/>
<rect x="97.42" y="92.38" width="5" height="5"/>
<rect x="100.42" y="109.75" width="5" height="5"/>
<rect x="103.41" y="90.64" width="5" height="5"/>
<rect x="106.41" y="91.36" width="5" height="5"/>
<rect x="109.41" y="92.38" width="5" height="5"/>
<rect x="112.4" y="93.82" width="5" height="5"/>
<rect x="115.4" y="89.05" width="5" height="5"/>
<rect x="118.4" y="89.77" width="5" height="5"/>
<rect x="121.39" y="89.77" width="5" height="5"/>
<rect x="124.39" y="89.77" width="5" height="5"/>
<rect x="127.39" y="90.93" width="5" height="5"/>
<rect x="130.38" y="84.99" width="5" height="5"/>
<rect x="133.38" y="84" width="5" height="5"/>
<rect x="136.38" y="84.75" width="5" height="5"/>
<rect x="139.37" y="83.77" width="5" height="5"/>
<rect x="142.37" y="84.52" width="5" height="5"/>
<rect x="145.37" y="83.53" width="5" height="5"/>
<rect x="148.36" y="84.28" width="5" height="5"/>
<rect x="151.36" y="83.29" width="5" height="5"/>
<rect x="154.36" y="84.04" width="5" height="5"/>
<rect x="157.35" y="83.06" width="5" height="5"/>
<rect x="160.35" y="83.81" width="5" height="5"/>
<rect x="163.35" y="82.82" width="5" height="5"/>
<rect x="166.34" y="77.9" width="5" height="5"/>
<rect x="169.34" y="98.89" width="5" height="5"/>
<rect x="172.34" y="102.22" width="5" height="5"/>
<rect x="175.33" y="83.69" width="5" height="5"/>
<rect x="178.33" y="96.29" width="5" height="5"/>
<rect x="181.33" y="97.15" width="5" height="5"/>
<rect x="184.33" y="98.89" width="5" height="5"/>
<rect x="187.32" y="93.82" width="5" height="5"/>
<rect x="190.32" y="93.82" width="5" height="5"/>
<rect x="193.32" y="93.82" width="5" height="5"/>
<rect x="196.31" y="93.82" width="5" height="5"/>
<rect x="199.31" y="93.82" width="5" height="5"/>
<rect x="202.31" y="66.31" width="5" height="5"/>
<rect x="205.3" y="98.17" width="5" height="5"/>
<rect x="208.3" y="102.22" width="5" height="5"/>
<rect x="211.3" y="94.55" width="5" height="5"/>
<rect x="214.29" y="94.55" width="5" height="5"/>
<rect x="217.29" y="95.27" width="5" height="5"/>
<rect x="220.29" y="95.27" width="5" height="5"/>
<rect x="223.28" y="92.81" width="5" height="5"/>
<rect x="226.28" y="93.82" width="5" height="5"/>
<rect x="229.28" y="93.82" width="5" height="5"/>
<rect x="232.27" y="93.82" width="5" height="5"/>
<rect x="235.27" y="93.82" width="5" height="5"/>
<rect x="238.27" y="78.04" width="5" height="5"/>
<rect x="241.26" y="97.88" width="5" height="5"/>
<rect x="244.26" y="101.06" width="5" height="5"/>
<rect x="247.26" y="87.45" width="5" height="5"/>
<rect x="250.25" y="95.85" width="5" height="5"/>
<rect x="253.25" y="95.85" width="5" height="5"/>
<rect x="256.25" y="92.67" width="5" height="5"/>
<rect x="259.25" y="92.67" width="5" height="5"/>
<rect x="262.24" y="92.67" width="5" height="5"/>
<rect x="265.24" y="92.67" width="5" height="5"/>
<rect x="268.24" y="92.67" width="5" height="5"/>
<rect x="271.23" y="92.67" width="5" height="5"/>
<rect x="274.23" y="55.16" width="5" height="5"/>
<rect x="277.23" y="95.85" width="5" height="5"/>
<rect x="280.22" y="100.05" width="5" height="5"/>
<rect x="283.22" y="104.25" width="5" height="5"/>
<rect x="286.22" y="93.82" width="5" height="5"/>
<rect x="289.21" y="92.67" width="5" height="5"/>
<rect x="292.21" y="92.67" width="5" height="5"/>
<rect x="295.21" y="91.65" width="5" height="5"/>
<rect x="298.2" y="91.65" width="5" height="5"/>
<rect x="301.2" y="91.65" width="5" height="5"/>
<rect x="304.2" y="91.65" width="5" height="5"/>
<rect x="307.19" y="91.65" width="5" height="5"/>
<rect x="310.19" y="60.52" width="5" height="5"/>
<rect x="313.19" y="100.77" width="5" height="5"/>
<rect x="316.18" y="106.28" width="5" height="5"/>
<rect x="319.18" y="71.38" width="5" height="5"/>
<rect x="322.18" y="98.6" width="5" height="5"/>
<rect x="325.17" y="99.62" width="5" height="5"/>
<rect x="328.17" y="100.77" width="5" height="5"/>
<rect x="331.17" y="102.95" width="5" height="5"/>
<rect x="334.17" y="96.43" width="5" height="5"/>
<rect x="337.16" y="96.72" width="5" height="5"/>
<rect x="340.16" y="98.6" width="5" height="5"/>
<rect x="343.16" y="99.62" width="5" height="5"/>
<rect x="346.15" y="45.17" width="5" height="5"/>
<rect x="349.15" y="100.77" width="5" height="5"/>
<rect x="352.15" y="105.12" width="5" height="5"/>
<rect x="355.14" y="77.9" width="5" height="5"/>
<rect x="358.14" y="97.59" width="5" height="5"/>
<rect x="361.14" y="97.59" width="5" height="5"/>
<rect x="364.13" y="98.6" width="5" height="5"/>
<rect x="367.13" y="100.77" width="5" height="5"/>
<rect x="370.13" y="95.27" width="5" height="5"/>
<rect x="373.12" y="96.43" width="5" height="5"/>
<rect x="376.12" y="97.59" width="5" height="5"/>
<rect x="379.12" y="98.6" width="5" height="5"/>
<rect x="382.11" y="53.86" width="5" height="5"/>
<rect x="385.11" y="101.93" width="5" height="5"/>
<rect x="388.11" y="105.12" width="5" height="5"/>
<rect x="391.1" y="70.22" width="5" height="5"/>
<rect x="394.1" y="98.6" width="5" height="5"/>
<rect x="397.1" y="98.6" width="5" height="5"/>
<rect x="400.09" y="99.62" width="5" height="5"/>
<rect x="403.09" y="100.77" width="5" height="5"/>
<rect x="406.09" y="95.27" width="5" height="5"/>
<rect x="409.08" y="95.27" width="5" height="5"/>
<rect x="412.08" y="97.59" width="5" height="5"/>
<rect x="415.08" y="99.62" width="5" height="5"/>
<rect x="418.08" y="43.14" width="5" height="5"/>
<rect x="421.07" y="99.62" width="5" height="5"/>
<rect x="424.07" y="101.93" width="5" height="5"/>
<rect x="427.07" y="76.88" width="5" height="5"/>
<rect x="430.06" y="95.27" width="5" height="5"/>
<rect x="433.06" y="95.27" width="5" height="5"/>
<rect x="436.06" y="95.27" width="5" height="5"/>
<rect x="439.05" y="97.59" width="5" height="5"/>
<rect x="442.05" y="94.26" width="5" height="5"/>
<rect x="445.05" y="94.26" width="5" height="5"/>
<rect x="448.04" y="94.26" width="5" height="5"/>
<rect x="451.04" y="96.43" width="5" height="5"/>
<rect x="454.04" y="55.02" width="5" height="5"/>
<rect x="457.03" y="98.6" width="5" height="5"/>
<rect x="460.03" y="100.77" width="5" height="5"/>
<rect x="463.03" y="83.4" width="5" height="5"/>
<rect x="466.02" y="95.27" width="5" height="5"/>
<rect x="469.02" y="95.27" width="5" height="5"/>
<rect x="472.02" y="94.84" width="5" height="5"/>
<rect x="475.01" y="92.67" width="5" height="5"/>
<rect x="478.01" y="93.24" width="5" height="5"/>
<rect x="481.01" y="93.82" width="5" height="5"/>
<rect x="484" y="93.82" width="5" height="5"/>
<rect x="487" y="95.27" width="5" height="5"/>
</g>
<polyline points="25,102.12 28,94.44 30.99,100.67 33.99,99.22 36.99,99.94 39.98,98.79 42.98,99.65 45.98,98.79 48.97,99.65 51.97,98.79 54.97,99.51 57.96,98.93 60.96,65.92 63.96,97.05 66.95,102.12 69.95,103.56 72.95,104.29 75.94,103.56 78.94,103.56 81.94,110.08 84.93,108.63 87.93,107.91 90.93,107.62 93.92,107.18 96.92,80.4 99.92,109.36 102.92,73.16 105.91,108.2 108.91,108.2 111.91,108.2 114.9,102.55 117.9,112.25 120.9,112.98 123.89,112.98 126.89,112.98 129.89,109.36 132.88,104.72 135.88,103.56 138.88,104.72 141.87,103.56 144.87,104.72 147.87,103.56 150.86,104.72 153.86,103.56 156.86,104.72 159.85,103.56 162.85,104.72 165.85,103.56 168.84,91.98 171.84,96.32 174.84,87.64 177.83,100.67 180.83,98.79 183.83,97.77 186.83,95.31 189.82,104.72 192.82,105.01 195.82,104.72 198.81,105.01 201.81,98.79 204.81,67.65 207.8,93.43 210.8,87.64 213.8,97.77 216.79,100.67 219.79,101.39 222.79,101.39 225.78,106.46 228.78,105.74 231.78,106.17 234.77,105.74 237.77,105.74 240.77,91.98 243.76,98.35 246.76,89.95 249.76,111.82 252.75,102.55 255.75,100.67 258.75,97.34 261.75,106.6 264.74,106.89 267.74,106.6 270.74,106.89 273.73,106.6 276.73,45.64 279.73,100.38 282.72,87.93 285.72,91.11 288.72,101.54 291.71,105.59 294.71,105.59 297.71,109.79 300.7,110.08 303.7,109.79 306.7,110.08 309.69,109.79 312.69,57.66 315.69,86.91 318.68,80.4 321.68,78.22 324.68,95.74 327.67,93.43 330.67,92.41 333.67,88.07 336.67,97.77 339.66,99.22 342.66,96.76 345.66,95.74 348.65,27.54 351.65,90.24 354.65,81.55 357.64,86.91 360.64,96.76 363.64,94.59 366.63,93.43 369.63,89.08 372.63,100.09 375.62,98.93 378.62,96.76 381.62,97.77 384.61,47.67 387.61,90.24 390.61,82.57 393.6,77.21 396.6,95.74 399.6,94.59 402.59,93.43 405.59,89.08 408.59,98.93 411.58,98.93 414.58,96.76 417.58,95.74 420.58,23.2 423.57,95.74 426.57,89.08 429.57,90.24 432.56,97.77 435.56,97.77 438.56,96.76 441.55,94.59 444.55,103.27 447.55,102.12 450.54,103.27 453.54,97.92 456.54,47.09 459.53,98.93 462.53,91.26 465.53,95.74 468.52,102.12 471.52,101.1 474.52,101.1 477.51,104.43 480.51,105.45 483.51,104.43 486.5,104.43 489.5,103.27" fill="none" stroke="#8cc74f" stroke-width="1.4" stroke-linejoin="round"/>
<g fill="#8cc74f">
<path d="M25 98.99l2.75 5.25 h-5.5 z"/>
<path d="M28 91.32l2.75 5.25 h-5.5 z"/>
<path d="M30.99 97.54l2.75 5.25 h-5.5 z"/>
<path d="M33.99 96.09l2.75 5.25 h-5.5 z"/>
<path d="M36.99 96.82l2.75 5.25 h-5.5 z"/>
<path d="M39.98 95.66l2.75 5.25 h-5.5 z"/>
<path d="M42.98 96.53l2.75 5.25 h-5.5 z"/>
<path d="M45.98 95.66l2.75 5.25 h-5.5 z"/>
<path d="M48.97 96.53l2.75 5.25 h-5.5 z"/>
<path d="M51.97 95.66l2.75 5.25 h-5.5 z"/>
<path d="M54.97 96.38l2.75 5.25 h-5.5 z"/>
<path d="M57.96 95.81l2.75 5.25 h-5.5 z"/>
<path d="M60.96 62.79l2.75 5.25 h-5.5 z"/>
<path d="M63.96 93.92l2.75 5.25 h-5.5 z"/>
<path d="M66.95 98.99l2.75 5.25 h-5.5 z"/>
<path d="M69.95 100.44l2.75 5.25 h-5.5 z"/>
<path d="M72.95 101.16l2.75 5.25 h-5.5 z"/>
<path d="M75.94 100.44l2.75 5.25 h-5.5 z"/>
<path d="M78.94 100.44l2.75 5.25 h-5.5 z"/>
<path d="M81.94 106.95l2.75 5.25 h-5.5 z"/>
<path d="M84.93 105.51l2.75 5.25 h-5.5 z"/>
<path d="M87.93 104.78l2.75 5.25 h-5.5 z"/>
<path d="M90.93 104.49l2.75 5.25 h-5.5 z"/>
<path d="M93.92 104.06l2.75 5.25 h-5.5 z"/>
<path d="M96.92 77.27l2.75 5.25 h-5.5 z"/>
<path d="M99.92 106.23l2.75 5.25 h-5.5 z"/>
<path d="M102.92 70.03l2.75 5.25 h-5.5 z"/>
<path d="M105.91 105.07l2.75 5.25 h-5.5 z"/>
<path d="M108.91 105.07l2.75 5.25 h-5.5 z"/>
<path d="M111.91 105.07l2.75 5.25 h-5.5 z"/>
<path d="M114.9 99.43l2.75 5.25 h-5.5 z"/>
<path d="M117.9 109.13l2.75 5.25 h-5.5 z"/>
<path d="M120.9 109.85l2.75 5.25 h-5.5 z"/>
<path d="M123.89 109.85l2.75 5.25 h-5.5 z"/>
<path d="M126.89 109.85l2.75 5.25 h-5.5 z"/>
<path d="M129.89 106.23l2.75 5.25 h-5.5 z"/>
<path d="M132.88 101.6l2.75 5.25 h-5.5 z"/>
<path d="M135.88 100.44l2.75 5.25 h-5.5 z"/>
<path d="M138.88 101.6l2.75 5.25 h-5.5 z"/>
<path d="M141.87 100.44l2.75 5.25 h-5.5 z"/>
<path d="M144.87 101.6l2.75 5.25 h-5.5 z"/>
<path d="M147.87 100.44l2.75 5.25 h-5.5 z"/>
<path d="M150.86 101.6l2.75 5.25 h-5.5 z"/>
<path d="M153.86 100.44l2.75 5.25 h-5.5 z"/>
<path d="M156.86 101.6l2.75 5.25 h-5.5 z"/>
<path d="M159.85 100.44l2.75 5.25 h-5.5 z"/>
<path d="M162.85 101.6l2.75 5.25 h-5.5 z"/>
<path d="M165.85 100.44l2.75 5.25 h-5.5 z"/>
<path d="M168.84 88.86l2.75 5.25 h-5.5 z"/>
<path d="M171.84 93.2l2.75 5.25 h-5.5 z"/>
<path d="M174.84 84.51l2.75 5.25 h-5.5 z"/>
<path d="M177.83 97.54l2.75 5.25 h-5.5 z"/>
<path d="M180.83 95.66l2.75 5.25 h-5.5 z"/>
<path d="M183.83 94.65l2.75 5.25 h-5.5 z"/>
<path d="M186.83 92.19l2.75 5.25 h-5.5 z"/>
<path d="M189.82 101.6l2.75 5.25 h-5.5 z"/>
<path d="M192.82 101.89l2.75 5.25 h-5.5 z"/>
<path d="M195.82 101.6l2.75 5.25 h-5.5 z"/>
<path d="M198.81 101.89l2.75 5.25 h-5.5 z"/>
<path d="M201.81 95.66l2.75 5.25 h-5.5 z"/>
<path d="M204.81 64.53l2.75 5.25 h-5.5 z"/>
<path d="M207.8 90.3l2.75 5.25 h-5.5 z"/>
<path d="M210.8 84.51l2.75 5.25 h-5.5 z"/>
<path d="M213.8 94.65l2.75 5.25 h-5.5 z"/>
<path d="M216.79 97.54l2.75 5.25 h-5.5 z"/>
<path d="M219.79 98.27l2.75 5.25 h-5.5 z"/>
<path d="M222.79 98.27l2.75 5.25 h-5.5 z"/>
<path d="M225.78 103.34l2.75 5.25 h-5.5 z"/>
<path d="M228.78 102.61l2.75 5.25 h-5.5 z"/>
<path d="M231.78 103.05l2.75 5.25 h-5.5 z"/>
<path d="M234.77 102.61l2.75 5.25 h-5.5 z"/>
<path d="M237.77 102.61l2.75 5.25 h-5.5 z"/>
<path d="M240.77 88.86l2.75 5.25 h-5.5 z"/>
<path d="M243.76 95.23l2.75 5.25 h-5.5 z"/>
<path d="M246.76 86.83l2.75 5.25 h-5.5 z"/>
<path d="M249.76 108.69l2.75 5.25 h-5.5 z"/>
<path d="M252.75 99.43l2.75 5.25 h-5.5 z"/>
<path d="M255.75 97.54l2.75 5.25 h-5.5 z"/>
<path d="M258.75 94.21l2.75 5.25 h-5.5 z"/>
<path d="M261.75 103.48l2.75 5.25 h-5.5 z"/>
<path d="M264.74 103.77l2.75 5.25 h-5.5 z"/>
<path d="M267.74 103.48l2.75 5.25 h-5.5 z"/>
<path d="M270.74 103.77l2.75 5.25 h-5.5 z"/>
<path d="M273.73 103.48l2.75 5.25 h-5.5 z"/>
<path d="M276.73 42.52l2.75 5.25 h-5.5 z"/>
<path d="M279.73 97.25l2.75 5.25 h-5.5 z"/>
<path d="M282.72 84.8l2.75 5.25 h-5.5 z"/>
<path d="M285.72 87.99l2.75 5.25 h-5.5 z"/>
<path d="M288.72 98.41l2.75 5.25 h-5.5 z"/>
<path d="M291.71 102.47l2.75 5.25 h-5.5 z"/>
<path d="M294.71 102.47l2.75 5.25 h-5.5 z"/>
<path d="M297.71 106.67l2.75 5.25 h-5.5 z"/>
<path d="M300.7 106.95l2.75 5.25 h-5.5 z"/>
<path d="M303.7 106.67l2.75 5.25 h-5.5 z"/>
<path d="M306.7 106.95l2.75 5.25 h-5.5 z"/>
<path d="M309.69 106.67l2.75 5.25 h-5.5 z"/>
<path d="M312.69 54.54l2.75 5.25 h-5.5 z"/>
<path d="M315.69 83.79l2.75 5.25 h-5.5 z"/>
<path d="M318.68 77.27l2.75 5.25 h-5.5 z"/>
<path d="M321.68 75.1l2.75 5.25 h-5.5 z"/>
<path d="M324.68 92.62l2.75 5.25 h-5.5 z"/>
<path d="M327.67 90.3l2.75 5.25 h-5.5 z"/>
<path d="M330.67 89.29l2.75 5.25 h-5.5 z"/>
<path d="M333.67 84.95l2.75 5.25 h-5.5 z"/>
<path d="M336.67 94.65l2.75 5.25 h-5.5 z"/>
<path d="M339.66 96.09l2.75 5.25 h-5.5 z"/>
<path d="M342.66 93.63l2.75 5.25 h-5.5 z"/>
<path d="M345.66 92.62l2.75 5.25 h-5.5 z"/>
<path d="M348.65 24.42l2.75 5.25 h-5.5 z"/>
<path d="M351.65 87.12l2.75 5.25 h-5.5 z"/>
<path d="M354.65 78.43l2.75 5.25 h-5.5 z"/>
<path d="M357.64 83.79l2.75 5.25 h-5.5 z"/>
<path d="M360.64 93.63l2.75 5.25 h-5.5 z"/>
<path d="M363.64 91.46l2.75 5.25 h-5.5 z"/>
<path d="M366.63 90.3l2.75 5.25 h-5.5 z"/>
<path d="M369.63 85.96l2.75 5.25 h-5.5 z"/>
<path d="M372.63 96.96l2.75 5.25 h-5.5 z"/>
<path d="M375.62 95.81l2.75 5.25 h-5.5 z"/>
<path d="M378.62 93.63l2.75 5.25 h-5.5 z"/>
<path d="M381.62 94.65l2.75 5.25 h-5.5 z"/>
<path d="M384.61 44.55l2.75 5.25 h-5.5 z"/>
<path d="M387.61 87.12l2.75 5.25 h-5.5 z"/>
<path d="M390.61 79.44l2.75 5.25 h-5.5 z"/>
<path d="M393.6 74.09l2.75 5.25 h-5.5 z"/>
<path d="M396.6 92.62l2.75 5.25 h-5.5 z"/>
<path d="M399.6 91.46l2.75 5.25 h-5.5 z"/>
<path d="M402.59 90.3l2.75 5.25 h-5.5 z"/>
<path d="M405.59 85.96l2.75 5.25 h-5.5 z"/>
<path d="M408.59 95.81l2.75 5.25 h-5.5 z"/>
<path d="M411.58 95.81l2.75 5.25 h-5.5 z"/>
<path d="M414.58 93.63l2.75 5.25 h-5.5 z"/>
<path d="M417.58 92.62l2.75 5.25 h-5.5 z"/>
<path d="M420.58 20.08l2.75 5.25 h-5.5 z"/>
<path d="M423.57 92.62l2.75 5.25 h-5.5 z"/>
<path d="M426.57 85.96l2.75 5.25 h-5.5 z"/>
<path d="M429.57 87.12l2.75 5.25 h-5.5 z"/>
<path d="M432.56 94.65l2.75 5.25 h-5.5 z"/>
<path d="M435.56 94.65l2.75 5.25 h-5.5 z"/>
<path d="M438.56 93.63l2.75 5.25 h-5.5 z"/>
<path d="M441.55 91.46l2.75 5.25 h-5.5 z"/>
<path d="M444.55 100.15l2.75 5.25 h-5.5 z"/>
<path d="M447.55 98.99l2.75 5.25 h-5.5 z"/>
<path d="M450.54 100.15l2.75 5.25 h-5.5 z"/>
<path d="M453.54 94.79l2.75 5.25 h-5.5 z"/>
<path d="M456.54 43.97l2.75 5.25 h-5.5 z"/>
<path d="M459.53 95.81l2.75 5.25 h-5.5 z"/>
<path d="M462.53 88.13l2.75 5.25 h-5.5 z"/>
<path d="M465.53 92.62l2.75 5.25 h-5.5 z"/>
<path d="M468.52 98.99l2.75 5.25 h-5.5 z"/>
<path d="M471.52 97.98l2.75 5.25 h-5.5 z"/>
<path d="M474.52 97.98l2.75 5.25 h-5.5 z"/>
<path d="M477.51 101.31l2.75 5.25 h-5.5 z"/>
<path d="M480.51 102.32l2.75 5.25 h-5.5 z"/>
<path d="M483.51 101.31l2.75 5.25 h-5.5 z"/>
<path d="M486.5 101.31l2.75 5.25 h-5.5 z"/>
<path d="M489.5 100.15l2.75 5.25 h-5.5 z"/>
</g>
<line x1="461" y1="14.2" x2="472" y2="14.2" stroke="#2f7fcb" stroke-width="1.3"/>
<g fill="#2f7fcb"><path d="M466.5 12.02l1.9 2.18 l-1.9 2.18 l-1.9 -2.18 z"/></g>
<text x="473.8" y="16.11" font-size="5.3" font-weight="bold" fill="#0a0a0a">H</text>
<line x1="461" y1="26.6" x2="472" y2="26.6" stroke="#e2393e" stroke-width="1.3"/>
<g fill="#e2393e"><rect x="464.6" y="24.7" width="3.8" height="3.8"/></g>
<text x="473.8" y="28.51" font-size="5.3" font-weight="bold" fill="#0a0a0a">Dt</text>
<line x1="461" y1="38.9" x2="472" y2="38.9" stroke="#8cc74f" stroke-width="1.3"/>
<g fill="#8cc74f"><path d="M466.5 36.52l2.09 3.99 h-4.18 z"/></g>
<text x="473.8" y="40.81" font-size="5.3" font-weight="bold" fill="#0a0a0a">Pit</text>
<g stroke="#bebebe" stroke-width="0.6">
<line x1="26.5" y1="293.1" x2="26.5" y2="328.3"/>
<line x1="29.99" y1="293.1" x2="29.99" y2="328.3"/>
<line x1="33.49" y1="293.1" x2="33.49" y2="328.3"/>
<line x1="36.98" y1="293.1" x2="36.98" y2="328.3"/>
<line x1="40.48" y1="293.1" x2="40.48" y2="328.3"/>
<line x1="43.98" y1="293.1" x2="43.98" y2="328.3"/>
<line x1="47.47" y1="293.1" x2="47.47" y2="328.3"/>
<line x1="50.97" y1="293.1" x2="50.97" y2="328.3"/>
<line x1="54.47" y1="293.1" x2="54.47" y2="328.3"/>
<line x1="57.96" y1="293.1" x2="57.96" y2="328.3"/>
<line x1="64.95" y1="293.1" x2="64.95" y2="328.3"/>
<line x1="68.45" y1="293.1" x2="68.45" y2="328.3"/>
<line x1="71.95" y1="293.1" x2="71.95" y2="328.3"/>
<line x1="75.44" y1="293.1" x2="75.44" y2="328.3"/>
<line x1="78.94" y1="293.1" x2="78.94" y2="328.3"/>
<line x1="82.44" y1="293.1" x2="82.44" y2="328.3"/>
<line x1="85.93" y1="293.1" x2="85.93" y2="328.3"/>
<line x1="89.43" y1="293.1" x2="89.43" y2="328.3"/>
<line x1="92.92" y1="293.1" x2="92.92" y2="328.3"/>
<line x1="96.42" y1="293.1" x2="96.42" y2="328.3"/>
<line x1="103.41" y1="293.1" x2="103.41" y2="328.3"/>
<line x1="106.91" y1="293.1" x2="106.91" y2="328.3"/>
<line x1="110.41" y1="293.1" x2="110.41" y2="328.3"/>
<line x1="113.9" y1="293.1" x2="113.9" y2="328.3"/>
<line x1="117.4" y1="293.1" x2="117.4" y2="328.3"/>
<line x1="120.89" y1="293.1" x2="120.89" y2="328.3"/>
<line x1="124.39" y1="293.1" x2="124.39" y2="328.3"/>
<line x1="127.89" y1="293.1" x2="127.89" y2="328.3"/>
<line x1="131.38" y1="293.1" x2="131.38" y2="328.3"/>
<line x1="134.88" y1="293.1" x2="134.88" y2="328.3"/>
<line x1="141.87" y1="293.1" x2="141.87" y2="328.3"/>
<line x1="145.37" y1="293.1" x2="145.37" y2="328.3"/>
<line x1="148.86" y1="293.1" x2="148.86" y2="328.3"/>
<line x1="152.36" y1="293.1" x2="152.36" y2="328.3"/>
<line x1="155.86" y1="293.1" x2="155.86" y2="328.3"/>
<line x1="159.35" y1="293.1" x2="159.35" y2="328.3"/>
<line x1="162.85" y1="293.1" x2="162.85" y2="328.3"/>
<line x1="166.34" y1="293.1" x2="166.34" y2="328.3"/>
<line x1="169.84" y1="293.1" x2="169.84" y2="328.3"/>
<line x1="173.34" y1="293.1" x2="173.34" y2="328.3"/>
<line x1="180.33" y1="293.1" x2="180.33" y2="328.3"/>
<line x1="183.83" y1="293.1" x2="183.83" y2="328.3"/>
<line x1="187.32" y1="293.1" x2="187.32" y2="328.3"/>
<line x1="190.82" y1="293.1" x2="190.82" y2="328.3"/>
<line x1="194.31" y1="293.1" x2="194.31" y2="328.3"/>
<line x1="197.81" y1="293.1" x2="197.81" y2="328.3"/>
<line x1="201.31" y1="293.1" x2="201.31" y2="328.3"/>
<line x1="204.8" y1="293.1" x2="204.8" y2="328.3"/>
<line x1="208.3" y1="293.1" x2="208.3" y2="328.3"/>
<line x1="211.8" y1="293.1" x2="211.8" y2="328.3"/>
<line x1="218.79" y1="293.1" x2="218.79" y2="328.3"/>
<line x1="222.28" y1="293.1" x2="222.28" y2="328.3"/>
<line x1="225.78" y1="293.1" x2="225.78" y2="328.3"/>
<line x1="229.28" y1="293.1" x2="229.28" y2="328.3"/>
<line x1="232.77" y1="293.1" x2="232.77" y2="328.3"/>
<line x1="236.27" y1="293.1" x2="236.27" y2="328.3"/>
<line x1="239.77" y1="293.1" x2="239.77" y2="328.3"/>
<line x1="243.26" y1="293.1" x2="243.26" y2="328.3"/>
<line x1="246.76" y1="293.1" x2="246.76" y2="328.3"/>
<line x1="250.25" y1="293.1" x2="250.25" y2="328.3"/>
<line x1="257.25" y1="293.1" x2="257.25" y2="328.3"/>
<line x1="260.74" y1="293.1" x2="260.74" y2="328.3"/>
<line x1="264.24" y1="293.1" x2="264.24" y2="328.3"/>
<line x1="267.73" y1="293.1" x2="267.73" y2="328.3"/>
<line x1="271.23" y1="293.1" x2="271.23" y2="328.3"/>
<line x1="274.73" y1="293.1" x2="274.73" y2="328.3"/>
<line x1="278.22" y1="293.1" x2="278.22" y2="328.3"/>
<line x1="281.72" y1="293.1" x2="281.72" y2="328.3"/>
<line x1="285.22" y1="293.1" x2="285.22" y2="328.3"/>
<line x1="288.71" y1="293.1" x2="288.71" y2="328.3"/>
<line x1="295.7" y1="293.1" x2="295.7" y2="328.3"/>
<line x1="299.2" y1="293.1" x2="299.2" y2="328.3"/>
<line x1="302.7" y1="293.1" x2="302.7" y2="328.3"/>
<line x1="306.19" y1="293.1" x2="306.19" y2="328.3"/>
<line x1="309.69" y1="293.1" x2="309.69" y2="328.3"/>
<line x1="313.19" y1="293.1" x2="313.19" y2="328.3"/>
<line x1="316.68" y1="293.1" x2="316.68" y2="328.3"/>
<line x1="320.18" y1="293.1" x2="320.18" y2="328.3"/>
<line x1="323.67" y1="293.1" x2="323.67" y2="328.3"/>
<line x1="327.17" y1="293.1" x2="327.17" y2="328.3"/>
<line x1="334.16" y1="293.1" x2="334.16" y2="328.3"/>
<line x1="337.66" y1="293.1" x2="337.66" y2="328.3"/>
<line x1="341.16" y1="293.1" x2="341.16" y2="328.3"/>
<line x1="344.65" y1="293.1" x2="344.65" y2="328.3"/>
<line x1="348.15" y1="293.1" x2="348.15" y2="328.3"/>
<line x1="351.64" y1="293.1" x2="351.64" y2="328.3"/>
<line x1="355.14" y1="293.1" x2="355.14" y2="328.3"/>
<line x1="358.64" y1="293.1" x2="358.64" y2="328.3"/>
<line x1="362.13" y1="293.1" x2="362.13" y2="328.3"/>
<line x1="365.63" y1="293.1" x2="365.63" y2="328.3"/>
<line x1="372.62" y1="293.1" x2="372.62" y2="328.3"/>
<line x1="376.12" y1="293.1" x2="376.12" y2="328.3"/>
<line x1="379.61" y1="293.1" x2="379.61" y2="328.3"/>
<line x1="383.11" y1="293.1" x2="383.11" y2="328.3"/>
<line x1="386.61" y1="293.1" x2="386.61" y2="328.3"/>
<line x1="390.1" y1="293.1" x2="390.1" y2="328.3"/>
<line x1="393.6" y1="293.1" x2="393.6" y2="328.3"/>
<line x1="397.09" y1="293.1" x2="397.09" y2="328.3"/>
<line x1="400.59" y1="293.1" x2="400.59" y2="328.3"/>
<line x1="404.09" y1="293.1" x2="404.09" y2="328.3"/>
<line x1="411.08" y1="293.1" x2="411.08" y2="328.3"/>
<line x1="414.58" y1="293.1" x2="414.58" y2="328.3"/>
<line x1="418.07" y1="293.1" x2="418.07" y2="328.3"/>
<line x1="421.57" y1="293.1" x2="421.57" y2="328.3"/>
<line x1="425.06" y1="293.1" x2="425.06" y2="328.3"/>
<line x1="428.56" y1="293.1" x2="428.56" y2="328.3"/>
<line x1="432.06" y1="293.1" x2="432.06" y2="328.3"/>
<line x1="435.55" y1="293.1" x2="435.55" y2="328.3"/>
<line x1="439.05" y1="293.1" x2="439.05" y2="328.3"/>
<line x1="442.55" y1="293.1" x2="442.55" y2="328.3"/>
<line x1="449.54" y1="293.1" x2="449.54" y2="328.3"/>
<line x1="453.03" y1="293.1" x2="453.03" y2="328.3"/>
<line x1="456.53" y1="293.1" x2="456.53" y2="328.3"/>
<line x1="460.03" y1="293.1" x2="460.03" y2="328.3"/>
<line x1="463.52" y1="293.1" x2="463.52" y2="328.3"/>
<line x1="467.02" y1="293.1" x2="467.02" y2="328.3"/>
<line x1="470.52" y1="293.1" x2="470.52" y2="328.3"/>
<line x1="474.01" y1="293.1" x2="474.01" y2="328.3"/>
<line x1="477.51" y1="293.1" x2="477.51" y2="328.3"/>
<line x1="481" y1="293.1" x2="481" y2="328.3"/>
</g>
<g stroke="#b4b4b4" stroke-width="0.6">
<line x1="61.46" y1="293.1" x2="61.46" y2="356"/>
<line x1="99.92" y1="293.1" x2="99.92" y2="356"/>
<line x1="138.38" y1="293.1" x2="138.38" y2="356"/>
<line x1="176.83" y1="293.1" x2="176.83" y2="356"/>
<line x1="215.29" y1="293.1" x2="215.29" y2="356"/>
<line x1="253.75" y1="293.1" x2="253.75" y2="356"/>
<line x1="292.21" y1="293.1" x2="292.21" y2="356"/>
<line x1="330.67" y1="293.1" x2="330.67" y2="356"/>
<line x1="369.12" y1="293.1" x2="369.12" y2="356"/>
<line x1="407.58" y1="293.1" x2="407.58" y2="356"/>
<line x1="446.04" y1="293.1" x2="446.04" y2="356"/>
<line x1="484.5" y1="293.1" x2="484.5" y2="356"/>
</g>
<line x1="20.8" y1="293.1" x2="484.5" y2="293.1" stroke="#c0c0c0" stroke-width="0.8"/>
<line x1="23" y1="197.1" x2="23" y2="356" stroke="#b4b4b4" stroke-width="0.9"/>
<g stroke="#b4b4b4" stroke-width="0.7">
<line x1="20.8" y1="197.1" x2="23" y2="197.1"/>
<line x1="20.8" y1="216.3" x2="23" y2="216.3"/>
<line x1="20.8" y1="235.5" x2="23" y2="235.5"/>
<line x1="20.8" y1="254.7" x2="23" y2="254.7"/>
<line x1="20.8" y1="273.9" x2="23" y2="273.9"/>
<line x1="20.8" y1="293.1" x2="23" y2="293.1"/>
<line x1="20.8" y1="312.3" x2="23" y2="312.3"/>
</g>
<g font-size="7.7" font-weight="bold" text-anchor="end" fill="#0a0a0a">
<text transform="translate(16.1 199.87) scale(0.82 1)">2.5</text>
<text transform="translate(16.1 219.07) scale(0.82 1)">2</text>
<text transform="translate(16.1 238.27) scale(0.82 1)">1.5</text>
<text transform="translate(16.1 257.47) scale(0.82 1)">1</text>
<text transform="translate(16.1 276.67) scale(0.82 1)">0.5</text>
<text transform="translate(16.1 295.87) scale(0.82 1)">0</text>
<text transform="translate(16.1 315.07) scale(0.82 1)">-0.5</text>
</g>
<g font-size="5.3" font-weight="bold" fill="#0a0a0a" text-anchor="end">
<text transform="translate(26.66 303.8) rotate(-90) scale(1.58 1)">Ch</text>
<text transform="translate(37.14 303.8) rotate(-90) scale(1.58 1)">pH</text>
<text transform="translate(47.63 303.8) rotate(-90) scale(1.58 1)">Fl</text>
<text transform="translate(58.12 303.8) rotate(-90) scale(1.58 1)">Hard</text>
<text transform="translate(68.61 303.8) rotate(-90) scale(1.58 1)">Fe</text>
<text transform="translate(79.1 303.8) rotate(-90) scale(1.58 1)">Ca</text>
<text transform="translate(89.59 303.8) rotate(-90) scale(1.58 1)">TDS</text>
<text transform="translate(100.08 303.8) rotate(-90) scale(1.58 1)">So</text>
<text transform="translate(110.57 303.8) rotate(-90) scale(1.58 1)">NI</text>
<text transform="translate(121.05 303.8) rotate(-90) scale(1.58 1)">Mg</text>
<text transform="translate(131.54 303.8) rotate(-90) scale(1.58 1)">Alk</text>
<text transform="translate(142.03 303.8) rotate(-90) scale(1.58 1)">Turb</text>
<text transform="translate(152.52 303.8) rotate(-90) scale(1.58 1)">pH</text>
<text transform="translate(163.01 303.8) rotate(-90) scale(1.58 1)">Fl</text>
<text transform="translate(173.5 303.8) rotate(-90) scale(1.58 1)">Hard</text>
<text transform="translate(183.99 303.8) rotate(-90) scale(1.58 1)">Ch</text>
<text transform="translate(194.47 303.8) rotate(-90) scale(1.58 1)">Ca</text>
<text transform="translate(204.96 303.8) rotate(-90) scale(1.58 1)">TDS</text>
<text transform="translate(215.45 303.8) rotate(-90) scale(1.58 1)">So</text>
<text transform="translate(225.94 303.8) rotate(-90) scale(1.58 1)">Fe</text>
<text transform="translate(236.43 303.8) rotate(-90) scale(1.58 1)">Mg</text>
<text transform="translate(246.92 303.8) rotate(-90) scale(1.58 1)">Alk</text>
<text transform="translate(257.41 303.8) rotate(-90) scale(1.58 1)">Turb</text>
<text transform="translate(267.89 303.8) rotate(-90) scale(1.58 1)">NI</text>
<text transform="translate(278.38 303.8) rotate(-90) scale(1.58 1)">Fl</text>
<text transform="translate(288.87 303.8) rotate(-90) scale(1.58 1)">Hard</text>
<text transform="translate(299.36 303.8) rotate(-90) scale(1.58 1)">Ch</text>
<text transform="translate(309.85 303.8) rotate(-90) scale(1.58 1)">pH</text>
<text transform="translate(320.34 303.8) rotate(-90) scale(1.58 1)">TDS</text>
<text transform="translate(330.83 303.8) rotate(-90) scale(1.58 1)">So</text>
<text transform="translate(341.32 303.8) rotate(-90) scale(1.58 1)">Fe</text>
<text transform="translate(351.8 303.8) rotate(-90) scale(1.58 1)">Ca</text>
<text transform="translate(362.29 303.8) rotate(-90) scale(1.58 1)">Alk</text>
<text transform="translate(372.78 303.8) rotate(-90) scale(1.58 1)">Turb</text>
<text transform="translate(383.27 303.8) rotate(-90) scale(1.58 1)">NI</text>
<text transform="translate(393.76 303.8) rotate(-90) scale(1.58 1)">Mg</text>
<text transform="translate(404.25 303.8) rotate(-90) scale(1.58 1)">Hard</text>
<text transform="translate(414.74 303.8) rotate(-90) scale(1.58 1)">Ch</text>
<text transform="translate(425.22 303.8) rotate(-90) scale(1.58 1)">pH</text>
<text transform="translate(435.71 303.8) rotate(-90) scale(1.58 1)">Fl</text>
<text transform="translate(446.2 303.8) rotate(-90) scale(1.58 1)">So</text>
<text transform="translate(456.69 303.8) rotate(-90) scale(1.58 1)">Fe</text>
<text transform="translate(467.18 303.8) rotate(-90) scale(1.58 1)">Ca</text>
<text transform="translate(477.67 303.8) rotate(-90) scale(1.58 1)">TDS</text>
</g>
<g font-size="7.5" font-weight="bold" fill="#0a0a0a" text-anchor="middle">
<text x="42.55" y="347.3" textLength="27.6" lengthAdjust="spacingAndGlyphs">Turbidity</text>
<text x="82.9" y="345.8" textLength="26.3" lengthAdjust="spacingAndGlyphs">Chloride</text>
<text x="119.4" y="347.3" textLength="12.1" lengthAdjust="spacingAndGlyphs">Iron</text>
<text x="156.9" y="347.3" textLength="21.5" lengthAdjust="spacingAndGlyphs">Nitrate</text>
<text x="196.1" y="347.7" textLength="7.6" lengthAdjust="spacingAndGlyphs">pH</text>
<text x="235" y="347.3" textLength="24.4" lengthAdjust="spacingAndGlyphs">Calcium</text>
<text x="273.1" y="347.7" textLength="35.9" lengthAdjust="spacingAndGlyphs">Magnesium</text>
<text x="312.4" y="345.8" textLength="23.9" lengthAdjust="spacingAndGlyphs">Fluoride</text>
<text x="349.7" y="347.3" textLength="10.7" lengthAdjust="spacingAndGlyphs">TDS</text>
<text x="391.5" y="346.1" textLength="28.4" lengthAdjust="spacingAndGlyphs">Alkalinity</text>
<text x="426.7" y="347.3" textLength="27.3" lengthAdjust="spacingAndGlyphs">Hardness</text>
<text x="467.6" y="345.3" textLength="27.1" lengthAdjust="spacingAndGlyphs">Sulphate</text>
</g>
<text transform="translate(31.3 194.4) scale(0.88 1)" font-size="7.3" font-weight="bold" fill="#0a0a0a">Site-7</text>
<polyline points="24.75,260.46 28.24,233.58 31.74,263.15 35.24,244.33 38.73,242.41 42.23,245.87 45.73,256.62 49.22,261.23 52.72,261.23 56.21,245.87 59.71,256.62 63.21,255.08 66.7,230.89 70.2,251.63 73.7,244.72 77.19,242.41 80.69,238.96 84.18,255.08 87.68,258.54 91.18,256.62 94.67,240.88 98.17,254.7 101.66,277.36 105.16,275.82 108.66,271.98 112.15,261.23 115.65,265.84 119.15,267.37 122.64,271.98 126.14,277.36 129.63,275.44 133.13,271.98 136.63,273.9 140.12,265.84 143.62,264.68 147.12,229.74 150.61,237.8 154.11,243.18 157.6,247.02 161.1,256.62 164.6,266.6 168.09,270.06 171.59,258.54 175.09,266.6 178.58,278.12 182.08,280.81 185.57,256.62 189.07,271.98 192.57,266.6 196.06,268.52 199.56,273.9 203.05,280.81 206.55,282.73 210.05,274.67 213.54,278.12 217.04,266.6 220.54,270.06 224.03,242.41 227.53,259.31 231.02,252.4 234.52,257.77 238.02,263.15 241.51,269.29 245.01,270.06 248.51,271.98 252,262 255.5,268.52 258.99,271.21 262.49,245.87 265.99,263.15 269.48,255.85 272.98,258.54 276.48,267.37 279.97,272.75 283.47,271.98 286.96,262 290.46,267.37 293.96,261.23 297.45,266.6 300.95,228.2 304.45,248.56 307.94,236.27 311.44,242.41 314.93,243.18 318.43,263.15 321.93,265.84 325.42,250.48 328.92,258.54 332.41,253.93 335.91,253.93 339.41,231.66 342.9,256.62 346.4,248.56 349.9,242.41 353.39,242.41 356.89,252.4 360.38,256.62 363.88,238.96 367.38,252.4 370.87,249.71 374.37,252.4 377.87,228.97 381.36,250.48 384.86,245.1 388.35,237.8 391.85,237.8 395.35,250.48 398.84,247.79 402.34,237.04 405.84,250.48 409.33,263.92 412.83,266.6 416.32,245.87 419.82,264.68 423.32,256.62 426.81,253.93 430.31,258.54 433.8,261.23 437.3,265.84 440.8,267.37 444.29,262 447.79,256.62 451.29,253.93 454.78,228.2 458.28,252.4 461.77,242.41 465.27,240.49 468.77,238.96 472.26,252.4 475.76,256.62 479.26,262 482.75,245.1" fill="none" stroke="#2f7fcb" stroke-width="1.6" stroke-linejoin="round"/>
<g fill="#2f7fcb">
<path d="M24.75 257.36l2.7 3.1 l-2.7 3.1 l-2.7 -3.1 z"/>
<path d="M28.24 230.48l2.7 3.1 l-2.7 3.1 l-2.7 -3.1 z"/>
<path d="M31.74 260.04l2.7 3.1 l-2.7 3.1 l-2.7 -3.1 z"/>
<path d="M35.24 241.23l2.7 3.1 l-2.7 3.1 l-2.7 -3.1 z"/>
<path d="M38.73 239.31l2.7 3.1 l-2.7 3.1 l-2.7 -3.1 z"/>
<path d="M42.23 242.76l2.7 3.1 l-2.7 3.1 l-2.7 -3.1 z"/>
<path d="M45.73 253.52l2.7 3.1 l-2.7 3.1 l-2.7 -3.1 z"/>
<path d="M49.22 258.12l2.7 3.1 l-2.7 3.1 l-2.7 -3.1 z"/>
<path d="M52.72 258.12l2.7 3.1 l-2.7 3.1 l-2.7 -3.1 z"/>
<path d="M56.21 242.76l2.7 3.1 l-2.7 3.1 l-2.7 -3.1 z"/>
<path d="M59.71 253.52l2.7 3.1 l-2.7 3.1 l-2.7 -3.1 z"/>
<path d="M63.21 251.98l2.7 3.1 l-2.7 3.1 l-2.7 -3.1 z"/>
<path d="M66.7 227.79l2.7 3.1 l-2.7 3.1 l-2.7 -3.1 z"/>
<path d="M70.2 248.52l2.7 3.1 l-2.7 3.1 l-2.7 -3.1 z"/>
<path d="M73.7 241.61l2.7 3.1 l-2.7 3.1 l-2.7 -3.1 z"/>
<path d="M77.19 239.31l2.7 3.1 l-2.7 3.1 l-2.7 -3.1 z"/>
<path d="M80.69 235.85l2.7 3.1 l-2.7 3.1 l-2.7 -3.1 z"/>
<path d="M84.18 251.98l2.7 3.1 l-2.7 3.1 l-2.7 -3.1 z"/>
<path d="M87.68 255.44l2.7 3.1 l-2.7 3.1 l-2.7 -3.1 z"/>
<path d="M91.18 253.52l2.7 3.1 l-2.7 3.1 l-2.7 -3.1 z"/>
<path d="M94.67 237.77l2.7 3.1 l-2.7 3.1 l-2.7 -3.1 z"/>
<path d="M98.17 251.6l2.7 3.1 l-2.7 3.1 l-2.7 -3.1 z"/>
<path d="M101.66 274.25l2.7 3.1 l-2.7 3.1 l-2.7 -3.1 z"/>
<path d="M105.16 272.72l2.7 3.1 l-2.7 3.1 l-2.7 -3.1 z"/>
<path d="M108.66 268.88l2.7 3.1 l-2.7 3.1 l-2.7 -3.1 z"/>
<path d="M112.15 258.12l2.7 3.1 l-2.7 3.1 l-2.7 -3.1 z"/>
<path d="M115.65 262.73l2.7 3.1 l-2.7 3.1 l-2.7 -3.1 z"/>
<path d="M119.15 264.27l2.7 3.1 l-2.7 3.1 l-2.7 -3.1 z"/>
<path d="M122.64 268.88l2.7 3.1 l-2.7 3.1 l-2.7 -3.1 z"/>
<path d="M126.14 274.25l2.7 3.1 l-2.7 3.1 l-2.7 -3.1 z"/>
<path d="M129.63 272.33l2.7 3.1 l-2.7 3.1 l-2.7 -3.1 z"/>
<path d="M133.13 268.88l2.7 3.1 l-2.7 3.1 l-2.7 -3.1 z"/>
<path d="M136.63 270.8l2.7 3.1 l-2.7 3.1 l-2.7 -3.1 z"/>
<path d="M140.12 262.73l2.7 3.1 l-2.7 3.1 l-2.7 -3.1 z"/>
<path d="M143.62 261.58l2.7 3.1 l-2.7 3.1 l-2.7 -3.1 z"/>
<path d="M147.12 226.64l2.7 3.1 l-2.7 3.1 l-2.7 -3.1 z"/>
<path d="M150.61 234.7l2.7 3.1 l-2.7 3.1 l-2.7 -3.1 z"/>
<path d="M154.11 240.08l2.7 3.1 l-2.7 3.1 l-2.7 -3.1 z"/>
<path d="M157.6 243.92l2.7 3.1 l-2.7 3.1 l-2.7 -3.1 z"/>
<path d="M161.1 253.52l2.7 3.1 l-2.7 3.1 l-2.7 -3.1 z"/>
<path d="M164.6 263.5l2.7 3.1 l-2.7 3.1 l-2.7 -3.1 z"/>
<path d="M168.09 266.95l2.7 3.1 l-2.7 3.1 l-2.7 -3.1 z"/>
<path d="M171.59 255.44l2.7 3.1 l-2.7 3.1 l-2.7 -3.1 z"/>
<path d="M175.09 263.5l2.7 3.1 l-2.7 3.1 l-2.7 -3.1 z"/>
<path d="M178.58 275.02l2.7 3.1 l-2.7 3.1 l-2.7 -3.1 z"/>
<path d="M182.08 277.71l2.7 3.1 l-2.7 3.1 l-2.7 -3.1 z"/>
<path d="M185.57 253.52l2.7 3.1 l-2.7 3.1 l-2.7 -3.1 z"/>
<path d="M189.07 268.88l2.7 3.1 l-2.7 3.1 l-2.7 -3.1 z"/>
<path d="M192.57 263.5l2.7 3.1 l-2.7 3.1 l-2.7 -3.1 z"/>
<path d="M196.06 265.42l2.7 3.1 l-2.7 3.1 l-2.7 -3.1 z"/>
<path d="M199.56 270.8l2.7 3.1 l-2.7 3.1 l-2.7 -3.1 z"/>
<path d="M203.05 277.71l2.7 3.1 l-2.7 3.1 l-2.7 -3.1 z"/>
<path d="M206.55 279.63l2.7 3.1 l-2.7 3.1 l-2.7 -3.1 z"/>
<path d="M210.05 271.56l2.7 3.1 l-2.7 3.1 l-2.7 -3.1 z"/>
<path d="M213.54 275.02l2.7 3.1 l-2.7 3.1 l-2.7 -3.1 z"/>
<path d="M217.04 263.5l2.7 3.1 l-2.7 3.1 l-2.7 -3.1 z"/>
<path d="M220.54 266.95l2.7 3.1 l-2.7 3.1 l-2.7 -3.1 z"/>
<path d="M224.03 239.31l2.7 3.1 l-2.7 3.1 l-2.7 -3.1 z"/>
<path d="M227.53 256.2l2.7 3.1 l-2.7 3.1 l-2.7 -3.1 z"/>
<path d="M231.02 249.29l2.7 3.1 l-2.7 3.1 l-2.7 -3.1 z"/>
<path d="M234.52 254.67l2.7 3.1 l-2.7 3.1 l-2.7 -3.1 z"/>
<path d="M238.02 260.04l2.7 3.1 l-2.7 3.1 l-2.7 -3.1 z"/>
<path d="M241.51 266.19l2.7 3.1 l-2.7 3.1 l-2.7 -3.1 z"/>
<path d="M245.01 266.95l2.7 3.1 l-2.7 3.1 l-2.7 -3.1 z"/>
<path d="M248.51 268.88l2.7 3.1 l-2.7 3.1 l-2.7 -3.1 z"/>
<path d="M252 258.89l2.7 3.1 l-2.7 3.1 l-2.7 -3.1 z"/>
<path d="M255.5 265.42l2.7 3.1 l-2.7 3.1 l-2.7 -3.1 z"/>
<path d="M258.99 268.11l2.7 3.1 l-2.7 3.1 l-2.7 -3.1 z"/>
<path d="M262.49 242.76l2.7 3.1 l-2.7 3.1 l-2.7 -3.1 z"/>
<path d="M265.99 260.04l2.7 3.1 l-2.7 3.1 l-2.7 -3.1 z"/>
<path d="M269.48 252.75l2.7 3.1 l-2.7 3.1 l-2.7 -3.1 z"/>
<path d="M272.98 255.44l2.7 3.1 l-2.7 3.1 l-2.7 -3.1 z"/>
<path d="M276.48 264.27l2.7 3.1 l-2.7 3.1 l-2.7 -3.1 z"/>
<path d="M279.97 269.64l2.7 3.1 l-2.7 3.1 l-2.7 -3.1 z"/>
<path d="M283.47 268.88l2.7 3.1 l-2.7 3.1 l-2.7 -3.1 z"/>
<path d="M286.96 258.89l2.7 3.1 l-2.7 3.1 l-2.7 -3.1 z"/>
<path d="M290.46 264.27l2.7 3.1 l-2.7 3.1 l-2.7 -3.1 z"/>
<path d="M293.96 258.12l2.7 3.1 l-2.7 3.1 l-2.7 -3.1 z"/>
<path d="M297.45 263.5l2.7 3.1 l-2.7 3.1 l-2.7 -3.1 z"/>
<path d="M300.95 225.1l2.7 3.1 l-2.7 3.1 l-2.7 -3.1 z"/>
<path d="M304.45 245.45l2.7 3.1 l-2.7 3.1 l-2.7 -3.1 z"/>
<path d="M307.94 233.16l2.7 3.1 l-2.7 3.1 l-2.7 -3.1 z"/>
<path d="M311.44 239.31l2.7 3.1 l-2.7 3.1 l-2.7 -3.1 z"/>
<path d="M314.93 240.08l2.7 3.1 l-2.7 3.1 l-2.7 -3.1 z"/>
<path d="M318.43 260.04l2.7 3.1 l-2.7 3.1 l-2.7 -3.1 z"/>
<path d="M321.93 262.73l2.7 3.1 l-2.7 3.1 l-2.7 -3.1 z"/>
<path d="M325.42 247.37l2.7 3.1 l-2.7 3.1 l-2.7 -3.1 z"/>
<path d="M328.92 255.44l2.7 3.1 l-2.7 3.1 l-2.7 -3.1 z"/>
<path d="M332.41 250.83l2.7 3.1 l-2.7 3.1 l-2.7 -3.1 z"/>
<path d="M335.91 250.83l2.7 3.1 l-2.7 3.1 l-2.7 -3.1 z"/>
<path d="M339.41 228.56l2.7 3.1 l-2.7 3.1 l-2.7 -3.1 z"/>
<path d="M342.9 253.52l2.7 3.1 l-2.7 3.1 l-2.7 -3.1 z"/>
<path d="M346.4 245.45l2.7 3.1 l-2.7 3.1 l-2.7 -3.1 z"/>
<path d="M349.9 239.31l2.7 3.1 l-2.7 3.1 l-2.7 -3.1 z"/>
<path d="M353.39 239.31l2.7 3.1 l-2.7 3.1 l-2.7 -3.1 z"/>
<path d="M356.89 249.29l2.7 3.1 l-2.7 3.1 l-2.7 -3.1 z"/>
<path d="M360.38 253.52l2.7 3.1 l-2.7 3.1 l-2.7 -3.1 z"/>
<path d="M363.88 235.85l2.7 3.1 l-2.7 3.1 l-2.7 -3.1 z"/>
<path d="M367.38 249.29l2.7 3.1 l-2.7 3.1 l-2.7 -3.1 z"/>
<path d="M370.87 246.6l2.7 3.1 l-2.7 3.1 l-2.7 -3.1 z"/>
<path d="M374.37 249.29l2.7 3.1 l-2.7 3.1 l-2.7 -3.1 z"/>
<path d="M377.87 225.87l2.7 3.1 l-2.7 3.1 l-2.7 -3.1 z"/>
<path d="M381.36 247.37l2.7 3.1 l-2.7 3.1 l-2.7 -3.1 z"/>
<path d="M384.86 242l2.7 3.1 l-2.7 3.1 l-2.7 -3.1 z"/>
<path d="M388.35 234.7l2.7 3.1 l-2.7 3.1 l-2.7 -3.1 z"/>
<path d="M391.85 234.7l2.7 3.1 l-2.7 3.1 l-2.7 -3.1 z"/>
<path d="M395.35 247.37l2.7 3.1 l-2.7 3.1 l-2.7 -3.1 z"/>
<path d="M398.84 244.68l2.7 3.1 l-2.7 3.1 l-2.7 -3.1 z"/>
<path d="M402.34 233.93l2.7 3.1 l-2.7 3.1 l-2.7 -3.1 z"/>
<path d="M405.84 247.37l2.7 3.1 l-2.7 3.1 l-2.7 -3.1 z"/>
<path d="M409.33 260.81l2.7 3.1 l-2.7 3.1 l-2.7 -3.1 z"/>
<path d="M412.83 263.5l2.7 3.1 l-2.7 3.1 l-2.7 -3.1 z"/>
<path d="M416.32 242.76l2.7 3.1 l-2.7 3.1 l-2.7 -3.1 z"/>
<path d="M419.82 261.58l2.7 3.1 l-2.7 3.1 l-2.7 -3.1 z"/>
<path d="M423.32 253.52l2.7 3.1 l-2.7 3.1 l-2.7 -3.1 z"/>
<path d="M426.81 250.83l2.7 3.1 l-2.7 3.1 l-2.7 -3.1 z"/>
<path d="M430.31 255.44l2.7 3.1 l-2.7 3.1 l-2.7 -3.1 z"/>
<path d="M433.8 258.12l2.7 3.1 l-2.7 3.1 l-2.7 -3.1 z"/>
<path d="M437.3 262.73l2.7 3.1 l-2.7 3.1 l-2.7 -3.1 z"/>
<path d="M440.8 264.27l2.7 3.1 l-2.7 3.1 l-2.7 -3.1 z"/>
<path d="M444.29 258.89l2.7 3.1 l-2.7 3.1 l-2.7 -3.1 z"/>
<path d="M447.79 253.52l2.7 3.1 l-2.7 3.1 l-2.7 -3.1 z"/>
<path d="M451.29 250.83l2.7 3.1 l-2.7 3.1 l-2.7 -3.1 z"/>
<path d="M454.78 225.1l2.7 3.1 l-2.7 3.1 l-2.7 -3.1 z"/>
<path d="M458.28 249.29l2.7 3.1 l-2.7 3.1 l-2.7 -3.1 z"/>
<path d="M461.77 239.31l2.7 3.1 l-2.7 3.1 l-2.7 -3.1 z"/>
<path d="M465.27 237.39l2.7 3.1 l-2.7 3.1 l-2.7 -3.1 z"/>
<path d="M468.77 235.85l2.7 3.1 l-2.7 3.1 l-2.7 -3.1 z"/>
<path d="M472.26 249.29l2.7 3.1 l-2.7 3.1 l-2.7 -3.1 z"/>
<path d="M475.76 253.52l2.7 3.1 l-2.7 3.1 l-2.7 -3.1 z"/>
<path d="M479.26 258.89l2.7 3.1 l-2.7 3.1 l-2.7 -3.1 z"/>
<path d="M482.75 242l2.7 3.1 l-2.7 3.1 l-2.7 -3.1 z"/>
</g>
<polyline points="24.75,247.02 28.24,273.9 31.74,247.02 35.24,262.38 38.73,263.92 42.23,262.38 45.73,248.56 49.22,249.71 52.72,247.02 56.21,261.23 59.71,249.71 63.21,254.32 66.7,277.36 70.2,256.62 73.7,258.54 77.19,266.22 80.69,269.68 84.18,256.62 87.68,253.55 91.18,251.63 94.67,266.99 98.17,256.62 101.66,230.51 105.16,229.36 108.66,236.27 112.15,247.02 115.65,240.49 119.15,239.72 122.64,234.35 126.14,228.2 129.63,228.2 133.13,235.12 136.63,232.43 140.12,241.64 143.62,241.64 147.12,276.59 150.61,267.37 154.11,259.31 157.6,261.23 161.1,250.48 164.6,238.96 168.09,237.8 171.59,250.48 175.09,245.87 178.58,229.74 182.08,226.28 185.57,251.24 189.07,235.12 192.57,241.64 196.06,240.49 199.56,233.58 203.05,226.28 206.55,227.05 210.05,234.35 213.54,229.74 217.04,241.64 220.54,237.04 224.03,265.84 227.53,243.18 231.02,258.54 234.52,253.93 238.02,244.33 241.51,237.04 245.01,236.27 248.51,247.02 252,240.49 255.5,237.04 258.99,237.04 262.49,259.31 265.99,242.41 269.48,253.16 272.98,248.56 276.48,242.41 279.97,235.12 283.47,233.58 286.96,247.02 290.46,239.72 293.96,247.79 297.45,243.18 300.95,278.12 304.45,253.16 307.94,271.21 311.44,263.92 314.93,266.6 318.43,244.33 321.93,243.18 325.42,255.85 328.92,248.56 332.41,253.93 335.91,252.4 339.41,273.9 342.9,252.4 346.4,256.62 349.9,265.84 353.39,267.37 356.89,253.93 360.38,251.24 363.88,266.6 367.38,256.62 370.87,256.62 374.37,256.62 377.87,278.12 381.36,254.7 384.86,261.23 388.35,269.29 391.85,270.06 395.35,256.62 398.84,255.85 402.34,271.21 405.84,256.62 409.33,242.41 412.83,240.49 416.32,261.23 419.82,242.41 423.32,250.48 426.81,253.16 430.31,255.85 433.8,243.18 437.3,240.49 440.8,239.72 444.29,244.33 447.79,250.48 451.29,248.56 454.78,278.51 458.28,255.85 461.77,266.6 465.27,267.37 468.77,268.52 472.26,255.85 475.76,248.56 479.26,247.79 482.75,263.15" fill="none" stroke="#e2393e" stroke-width="1.6" stroke-linejoin="round"/>
<g fill="#e2393e">
<rect x="22.05" y="244.32" width="5.4" height="5.4"/>
<rect x="25.54" y="271.2" width="5.4" height="5.4"/>
<rect x="29.04" y="244.32" width="5.4" height="5.4"/>
<rect x="32.54" y="259.68" width="5.4" height="5.4"/>
<rect x="36.03" y="261.22" width="5.4" height="5.4"/>
<rect x="39.53" y="259.68" width="5.4" height="5.4"/>
<rect x="43.03" y="245.86" width="5.4" height="5.4"/>
<rect x="46.52" y="247.01" width="5.4" height="5.4"/>
<rect x="50.02" y="244.32" width="5.4" height="5.4"/>
<rect x="53.51" y="258.53" width="5.4" height="5.4"/>
<rect x="57.01" y="247.01" width="5.4" height="5.4"/>
<rect x="60.51" y="251.62" width="5.4" height="5.4"/>
<rect x="64" y="274.66" width="5.4" height="5.4"/>
<rect x="67.5" y="253.92" width="5.4" height="5.4"/>
<rect x="71" y="255.84" width="5.4" height="5.4"/>
<rect x="74.49" y="263.52" width="5.4" height="5.4"/>
<rect x="77.99" y="266.98" width="5.4" height="5.4"/>
<rect x="81.48" y="253.92" width="5.4" height="5.4"/>
<rect x="84.98" y="250.85" width="5.4" height="5.4"/>
<rect x="88.48" y="248.93" width="5.4" height="5.4"/>
<rect x="91.97" y="264.29" width="5.4" height="5.4"/>
<rect x="95.47" y="253.92" width="5.4" height="5.4"/>
<rect x="98.96" y="227.81" width="5.4" height="5.4"/>
<rect x="102.46" y="226.66" width="5.4" height="5.4"/>
<rect x="105.96" y="233.57" width="5.4" height="5.4"/>
<rect x="109.45" y="244.32" width="5.4" height="5.4"/>
<rect x="112.95" y="237.79" width="5.4" height="5.4"/>
<rect x="116.45" y="237.02" width="5.4" height="5.4"/>
<rect x="119.94" y="231.65" width="5.4" height="5.4"/>
<rect x="123.44" y="225.5" width="5.4" height="5.4"/>
<rect x="126.93" y="225.5" width="5.4" height="5.4"/>
<rect x="130.43" y="232.42" width="5.4" height="5.4"/>
<rect x="133.93" y="229.73" width="5.4" height="5.4"/>
<rect x="137.42" y="238.94" width="5.4" height="5.4"/>
<rect x="140.92" y="238.94" width="5.4" height="5.4"/>
<rect x="144.42" y="273.89" width="5.4" height="5.4"/>
<rect x="147.91" y="264.67" width="5.4" height="5.4"/>
<rect x="151.41" y="256.61" width="5.4" height="5.4"/>
<rect x="154.9" y="258.53" width="5.4" height="5.4"/>
<rect x="158.4" y="247.78" width="5.4" height="5.4"/>
<rect x="161.9" y="236.26" width="5.4" height="5.4"/>
<rect x="165.39" y="235.1" width="5.4" height="5.4"/>
<rect x="168.89" y="247.78" width="5.4" height="5.4"/>
<rect x="172.39" y="243.17" width="5.4" height="5.4"/>
<rect x="175.88" y="227.04" width="5.4" height="5.4"/>
<rect x="179.38" y="223.58" width="5.4" height="5.4"/>
<rect x="182.87" y="248.54" width="5.4" height="5.4"/>
<rect x="186.37" y="232.42" width="5.4" height="5.4"/>
<rect x="189.87" y="238.94" width="5.4" height="5.4"/>
<rect x="193.36" y="237.79" width="5.4" height="5.4"/>
<rect x="196.86" y="230.88" width="5.4" height="5.4"/>
<rect x="200.35" y="223.58" width="5.4" height="5.4"/>
<rect x="203.85" y="224.35" width="5.4" height="5.4"/>
<rect x="207.35" y="231.65" width="5.4" height="5.4"/>
<rect x="210.84" y="227.04" width="5.4" height="5.4"/>
<rect x="214.34" y="238.94" width="5.4" height="5.4"/>
<rect x="217.84" y="234.34" width="5.4" height="5.4"/>
<rect x="221.33" y="263.14" width="5.4" height="5.4"/>
<rect x="224.83" y="240.48" width="5.4" height="5.4"/>
<rect x="228.32" y="255.84" width="5.4" height="5.4"/>
<rect x="231.82" y="251.23" width="5.4" height="5.4"/>
<rect x="235.32" y="241.63" width="5.4" height="5.4"/>
<rect x="238.81" y="234.34" width="5.4" height="5.4"/>
<rect x="242.31" y="233.57" width="5.4" height="5.4"/>
<rect x="245.81" y="244.32" width="5.4" height="5.4"/>
<rect x="249.3" y="237.79" width="5.4" height="5.4"/>
<rect x="252.8" y="234.34" width="5.4" height="5.4"/>
<rect x="256.29" y="234.34" width="5.4" height="5.4"/>
<rect x="259.79" y="256.61" width="5.4" height="5.4"/>
<rect x="263.29" y="239.71" width="5.4" height="5.4"/>
<rect x="266.78" y="250.46" width="5.4" height="5.4"/>
<rect x="270.28" y="245.86" width="5.4" height="5.4"/>
<rect x="273.78" y="239.71" width="5.4" height="5.4"/>
<rect x="277.27" y="232.42" width="5.4" height="5.4"/>
<rect x="280.77" y="230.88" width="5.4" height="5.4"/>
<rect x="284.26" y="244.32" width="5.4" height="5.4"/>
<rect x="287.76" y="237.02" width="5.4" height="5.4"/>
<rect x="291.26" y="245.09" width="5.4" height="5.4"/>
<rect x="294.75" y="240.48" width="5.4" height="5.4"/>
<rect x="298.25" y="275.42" width="5.4" height="5.4"/>
<rect x="301.75" y="250.46" width="5.4" height="5.4"/>
<rect x="305.24" y="268.51" width="5.4" height="5.4"/>
<rect x="308.74" y="261.22" width="5.4" height="5.4"/>
<rect x="312.23" y="263.9" width="5.4" height="5.4"/>
<rect x="315.73" y="241.63" width="5.4" height="5.4"/>
<rect x="319.23" y="240.48" width="5.4" height="5.4"/>
<rect x="322.72" y="253.15" width="5.4" height="5.4"/>
<rect x="326.22" y="245.86" width="5.4" height="5.4"/>
<rect x="329.71" y="251.23" width="5.4" height="5.4"/>
<rect x="333.21" y="249.7" width="5.4" height="5.4"/>
<rect x="336.71" y="271.2" width="5.4" height="5.4"/>
<rect x="340.2" y="249.7" width="5.4" height="5.4"/>
<rect x="343.7" y="253.92" width="5.4" height="5.4"/>
<rect x="347.2" y="263.14" width="5.4" height="5.4"/>
<rect x="350.69" y="264.67" width="5.4" height="5.4"/>
<rect x="354.19" y="251.23" width="5.4" height="5.4"/>
<rect x="357.68" y="248.54" width="5.4" height="5.4"/>
<rect x="361.18" y="263.9" width="5.4" height="5.4"/>
<rect x="364.68" y="253.92" width="5.4" height="5.4"/>
<rect x="368.17" y="253.92" width="5.4" height="5.4"/>
<rect x="371.67" y="253.92" width="5.4" height="5.4"/>
<rect x="375.17" y="275.42" width="5.4" height="5.4"/>
<rect x="378.66" y="252" width="5.4" height="5.4"/>
<rect x="382.16" y="258.53" width="5.4" height="5.4"/>
<rect x="385.65" y="266.59" width="5.4" height="5.4"/>
<rect x="389.15" y="267.36" width="5.4" height="5.4"/>
<rect x="392.65" y="253.92" width="5.4" height="5.4"/>
<rect x="396.14" y="253.15" width="5.4" height="5.4"/>
<rect x="399.64" y="268.51" width="5.4" height="5.4"/>
<rect x="403.14" y="253.92" width="5.4" height="5.4"/>
<rect x="406.63" y="239.71" width="5.4" height="5.4"/>
<rect x="410.13" y="237.79" width="5.4" height="5.4"/>
<rect x="413.62" y="258.53" width="5.4" height="5.4"/>
<rect x="417.12" y="239.71" width="5.4" height="5.4"/>
<rect x="420.62" y="247.78" width="5.4" height="5.4"/>
<rect x="424.11" y="250.46" width="5.4" height="5.4"/>
<rect x="427.61" y="253.15" width="5.4" height="5.4"/>
<rect x="431.1" y="240.48" width="5.4" height="5.4"/>
<rect x="434.6" y="237.79" width="5.4" height="5.4"/>
<rect x="438.1" y="237.02" width="5.4" height="5.4"/>
<rect x="441.59" y="241.63" width="5.4" height="5.4"/>
<rect x="445.09" y="247.78" width="5.4" height="5.4"/>
<rect x="448.59" y="245.86" width="5.4" height="5.4"/>
<rect x="452.08" y="275.81" width="5.4" height="5.4"/>
<rect x="455.58" y="253.15" width="5.4" height="5.4"/>
<rect x="459.07" y="263.9" width="5.4" height="5.4"/>
<rect x="462.57" y="264.67" width="5.4" height="5.4"/>
<rect x="466.07" y="265.82" width="5.4" height="5.4"/>
<rect x="469.56" y="253.15" width="5.4" height="5.4"/>
<rect x="473.06" y="245.86" width="5.4" height="5.4"/>
<rect x="476.56" y="245.09" width="5.4" height="5.4"/>
<rect x="480.05" y="260.45" width="5.4" height="5.4"/>
</g>
<polyline points="24.75,267.37 28.24,214.38 31.74,267.37 35.24,237.04 38.73,233.58 42.23,237.8 45.73,255.85 49.22,266.6 52.72,269.29 56.21,238.96 59.71,263.15 63.21,258.54 66.7,208.24 70.2,253.55 73.7,239.34 77.19,229.36 80.69,224.36 84.18,255.85 87.68,259.31 91.18,260.08 94.67,227.82 98.17,254.7 101.66,285.8 105.16,281.96 108.66,291.56 112.15,269.29 115.65,281.2 119.15,282.73 122.64,291.56 126.14,279.28 129.63,279.28 133.13,290.03 136.63,282.73 140.12,279.28 143.62,277.74 147.12,209.39 150.61,227.05 154.11,237.8 157.6,238.96 161.1,261.23 164.6,282.73 168.09,286.19 171.59,262.38 175.09,273.9 178.58,283.5 182.08,278.12 185.57,258.54 189.07,291.56 192.57,279.28 196.06,284.65 199.56,291.56 203.05,276.59 206.55,275.44 210.05,288.11 213.54,280.81 217.04,280.81 220.54,288.11 224.03,229.74 227.53,273.9 231.02,245.87 234.52,250.48 238.02,274.67 241.51,288.11 245.01,288.88 248.51,270.06 252,280.81 255.5,286.19 258.99,290.03 262.49,244.33 265.99,278.12 269.48,253.93 272.98,263.92 276.48,279.28 279.97,292.72 283.47,291.56 286.96,268.52 290.46,283.5 293.96,266.6 297.45,273.9 300.95,202.86 304.45,253.93 307.94,220.14 311.44,235.12 314.93,229.74 318.43,275.44 321.93,277.36 325.42,248.56 328.92,263.92 332.41,252.4 335.91,255.85 339.41,211.69 342.9,259.31 346.4,248.56 349.9,229.74 353.39,227.05 356.89,253.93 360.38,261.23 363.88,227.05 367.38,253.16 370.87,245.87 374.37,252.4 377.87,203.63 381.36,253.16 384.86,239.72 388.35,221.68 391.85,220.91 395.35,245.1 398.84,251.24 402.34,220.91 405.84,250.48 409.33,276.59 412.83,279.28 416.32,240.49 419.82,279.28 423.32,261.23 426.81,255.85 430.31,256.62 433.8,274.67 437.3,279.28 440.8,282.73 444.29,264.68 447.79,257.77 451.29,263.92 454.78,202.86 458.28,253.16 461.77,229.74 465.27,228.2 468.77,223.6 472.26,253.16 475.76,264.68 479.26,268.52 482.75,235.12" fill="none" stroke="#8cc74f" stroke-width="1.6" stroke-linejoin="round"/>
<g fill="#8cc74f">
<path d="M24.75 264l2.97 5.67 h-5.94 z"/>
<path d="M28.24 211.01l2.97 5.67 h-5.94 z"/>
<path d="M31.74 264l2.97 5.67 h-5.94 z"/>
<path d="M35.24 233.66l2.97 5.67 h-5.94 z"/>
<path d="M38.73 230.21l2.97 5.67 h-5.94 z"/>
<path d="M42.23 234.43l2.97 5.67 h-5.94 z"/>
<path d="M45.73 252.48l2.97 5.67 h-5.94 z"/>
<path d="M49.22 263.23l2.97 5.67 h-5.94 z"/>
<path d="M52.72 265.92l2.97 5.67 h-5.94 z"/>
<path d="M56.21 235.58l2.97 5.67 h-5.94 z"/>
<path d="M59.71 259.77l2.97 5.67 h-5.94 z"/>
<path d="M63.21 255.17l2.97 5.67 h-5.94 z"/>
<path d="M66.7 204.86l2.97 5.67 h-5.94 z"/>
<path d="M70.2 250.17l2.97 5.67 h-5.94 z"/>
<path d="M73.7 235.97l2.97 5.67 h-5.94 z"/>
<path d="M77.19 225.98l2.97 5.67 h-5.94 z"/>
<path d="M80.69 220.99l2.97 5.67 h-5.94 z"/>
<path d="M84.18 252.48l2.97 5.67 h-5.94 z"/>
<path d="M87.68 255.93l2.97 5.67 h-5.94 z"/>
<path d="M91.18 256.7l2.97 5.67 h-5.94 z"/>
<path d="M94.67 224.45l2.97 5.67 h-5.94 z"/>
<path d="M98.17 251.33l2.97 5.67 h-5.94 z"/>
<path d="M101.66 282.43l2.97 5.67 h-5.94 z"/>
<path d="M105.16 278.59l2.97 5.67 h-5.94 z"/>
<path d="M108.66 288.19l2.97 5.67 h-5.94 z"/>
<path d="M112.15 265.92l2.97 5.67 h-5.94 z"/>
<path d="M115.65 277.82l2.97 5.67 h-5.94 z"/>
<path d="M119.15 279.36l2.97 5.67 h-5.94 z"/>
<path d="M122.64 288.19l2.97 5.67 h-5.94 z"/>
<path d="M126.14 275.9l2.97 5.67 h-5.94 z"/>
<path d="M129.63 275.9l2.97 5.67 h-5.94 z"/>
<path d="M133.13 286.65l2.97 5.67 h-5.94 z"/>
<path d="M136.63 279.36l2.97 5.67 h-5.94 z"/>
<path d="M140.12 275.9l2.97 5.67 h-5.94 z"/>
<path d="M143.62 274.37l2.97 5.67 h-5.94 z"/>
<path d="M147.12 206.01l2.97 5.67 h-5.94 z"/>
<path d="M150.61 223.68l2.97 5.67 h-5.94 z"/>
<path d="M154.11 234.43l2.97 5.67 h-5.94 z"/>
<path d="M157.6 235.58l2.97 5.67 h-5.94 z"/>
<path d="M161.1 257.85l2.97 5.67 h-5.94 z"/>
<path d="M164.6 279.36l2.97 5.67 h-5.94 z"/>
<path d="M168.09 282.81l2.97 5.67 h-5.94 z"/>
<path d="M171.59 259l2.97 5.67 h-5.94 z"/>
<path d="M175.09 270.53l2.97 5.67 h-5.94 z"/>
<path d="M178.58 280.12l2.97 5.67 h-5.94 z"/>
<path d="M182.08 274.75l2.97 5.67 h-5.94 z"/>
<path d="M185.57 255.17l2.97 5.67 h-5.94 z"/>
<path d="M189.07 288.19l2.97 5.67 h-5.94 z"/>
<path d="M192.57 275.9l2.97 5.67 h-5.94 z"/>
<path d="M196.06 281.28l2.97 5.67 h-5.94 z"/>
<path d="M199.56 288.19l2.97 5.67 h-5.94 z"/>
<path d="M203.05 273.21l2.97 5.67 h-5.94 z"/>
<path d="M206.55 272.06l2.97 5.67 h-5.94 z"/>
<path d="M210.05 284.73l2.97 5.67 h-5.94 z"/>
<path d="M213.54 277.44l2.97 5.67 h-5.94 z"/>
<path d="M217.04 277.44l2.97 5.67 h-5.94 z"/>
<path d="M220.54 284.73l2.97 5.67 h-5.94 z"/>
<path d="M224.03 226.37l2.97 5.67 h-5.94 z"/>
<path d="M227.53 270.53l2.97 5.67 h-5.94 z"/>
<path d="M231.02 242.49l2.97 5.67 h-5.94 z"/>
<path d="M234.52 247.1l2.97 5.67 h-5.94 z"/>
<path d="M238.02 271.29l2.97 5.67 h-5.94 z"/>
<path d="M241.51 284.73l2.97 5.67 h-5.94 z"/>
<path d="M245.01 285.5l2.97 5.67 h-5.94 z"/>
<path d="M248.51 266.69l2.97 5.67 h-5.94 z"/>
<path d="M252 277.44l2.97 5.67 h-5.94 z"/>
<path d="M255.5 282.81l2.97 5.67 h-5.94 z"/>
<path d="M258.99 286.65l2.97 5.67 h-5.94 z"/>
<path d="M262.49 240.96l2.97 5.67 h-5.94 z"/>
<path d="M265.99 274.75l2.97 5.67 h-5.94 z"/>
<path d="M269.48 250.56l2.97 5.67 h-5.94 z"/>
<path d="M272.98 260.54l2.97 5.67 h-5.94 z"/>
<path d="M276.48 275.9l2.97 5.67 h-5.94 z"/>
<path d="M279.97 289.34l2.97 5.67 h-5.94 z"/>
<path d="M283.47 288.19l2.97 5.67 h-5.94 z"/>
<path d="M286.96 265.15l2.97 5.67 h-5.94 z"/>
<path d="M290.46 280.12l2.97 5.67 h-5.94 z"/>
<path d="M293.96 263.23l2.97 5.67 h-5.94 z"/>
<path d="M297.45 270.53l2.97 5.67 h-5.94 z"/>
<path d="M300.95 199.49l2.97 5.67 h-5.94 z"/>
<path d="M304.45 250.56l2.97 5.67 h-5.94 z"/>
<path d="M307.94 216.77l2.97 5.67 h-5.94 z"/>
<path d="M311.44 231.74l2.97 5.67 h-5.94 z"/>
<path d="M314.93 226.37l2.97 5.67 h-5.94 z"/>
<path d="M318.43 272.06l2.97 5.67 h-5.94 z"/>
<path d="M321.93 273.98l2.97 5.67 h-5.94 z"/>
<path d="M325.42 245.18l2.97 5.67 h-5.94 z"/>
<path d="M328.92 260.54l2.97 5.67 h-5.94 z"/>
<path d="M332.41 249.02l2.97 5.67 h-5.94 z"/>
<path d="M335.91 252.48l2.97 5.67 h-5.94 z"/>
<path d="M339.41 208.32l2.97 5.67 h-5.94 z"/>
<path d="M342.9 255.93l2.97 5.67 h-5.94 z"/>
<path d="M346.4 245.18l2.97 5.67 h-5.94 z"/>
<path d="M349.9 226.37l2.97 5.67 h-5.94 z"/>
<path d="M353.39 223.68l2.97 5.67 h-5.94 z"/>
<path d="M356.89 250.56l2.97 5.67 h-5.94 z"/>
<path d="M360.38 257.85l2.97 5.67 h-5.94 z"/>
<path d="M363.88 223.68l2.97 5.67 h-5.94 z"/>
<path d="M367.38 249.79l2.97 5.67 h-5.94 z"/>
<path d="M370.87 242.49l2.97 5.67 h-5.94 z"/>
<path d="M374.37 249.02l2.97 5.67 h-5.94 z"/>
<path d="M377.87 200.25l2.97 5.67 h-5.94 z"/>
<path d="M381.36 249.79l2.97 5.67 h-5.94 z"/>
<path d="M384.86 236.35l2.97 5.67 h-5.94 z"/>
<path d="M388.35 218.3l2.97 5.67 h-5.94 z"/>
<path d="M391.85 217.53l2.97 5.67 h-5.94 z"/>
<path d="M395.35 241.73l2.97 5.67 h-5.94 z"/>
<path d="M398.84 247.87l2.97 5.67 h-5.94 z"/>
<path d="M402.34 217.53l2.97 5.67 h-5.94 z"/>
<path d="M405.84 247.1l2.97 5.67 h-5.94 z"/>
<path d="M409.33 273.21l2.97 5.67 h-5.94 z"/>
<path d="M412.83 275.9l2.97 5.67 h-5.94 z"/>
<path d="M416.32 237.12l2.97 5.67 h-5.94 z"/>
<path d="M419.82 275.9l2.97 5.67 h-5.94 z"/>
<path d="M423.32 257.85l2.97 5.67 h-5.94 z"/>
<path d="M426.81 252.48l2.97 5.67 h-5.94 z"/>
<path d="M430.31 253.25l2.97 5.67 h-5.94 z"/>
<path d="M433.8 271.29l2.97 5.67 h-5.94 z"/>
<path d="M437.3 275.9l2.97 5.67 h-5.94 z"/>
<path d="M440.8 279.36l2.97 5.67 h-5.94 z"/>
<path d="M444.29 261.31l2.97 5.67 h-5.94 z"/>
<path d="M447.79 254.4l2.97 5.67 h-5.94 z"/>
<path d="M451.29 260.54l2.97 5.67 h-5.94 z"/>
<path d="M454.78 199.49l2.97 5.67 h-5.94 z"/>
<path d="M458.28 249.79l2.97 5.67 h-5.94 z"/>
<path d="M461.77 226.37l2.97 5.67 h-5.94 z"/>
<path d="M465.27 224.83l2.97 5.67 h-5.94 z"/>
<path d="M468.77 220.22l2.97 5.67 h-5.94 z"/>
<path d="M472.26 249.79l2.97 5.67 h-5.94 z"/>
<path d="M475.76 261.31l2.97 5.67 h-5.94 z"/>
<path d="M479.26 265.15l2.97 5.67 h-5.94 z"/>
<path d="M482.75 231.74l2.97 5.67 h-5.94 z"/>
</g>
<line x1="469.2" y1="189.1" x2="481.8" y2="189.1" stroke="#2f7fcb" stroke-width="1.8"/>
<g fill="#2f7fcb"><path d="M475.5 186.34l2.4 2.76 l-2.4 2.76 l-2.4 -2.76 z"/></g>
<text x="483" y="191.33" font-size="6.2" font-weight="bold" fill="#0a0a0a">H</text>
<line x1="469.2" y1="206.4" x2="481.8" y2="206.4" stroke="#e2393e" stroke-width="1.8"/>
<g fill="#e2393e"><rect x="473.1" y="204" width="4.8" height="4.8"/></g>
<text x="483" y="208.63" font-size="6.2" font-weight="bold" fill="#0a0a0a">Dt</text>
<line x1="469.2" y1="222.9" x2="481.8" y2="222.9" stroke="#8cc74f" stroke-width="1.8"/>
<g fill="#8cc74f"><path d="M475.5 219.9l2.64 5.04 h-5.28 z"/></g>
<text x="483" y="225.13" font-size="6.2" font-weight="bold" fill="#0a0a0a">Pit</text>
<g stroke="#bebebe" stroke-width="0.6">
<line x1="26.82" y1="488.1" x2="26.82" y2="520.5"/>
<line x1="30.34" y1="488.1" x2="30.34" y2="520.5"/>
<line x1="33.86" y1="488.1" x2="33.86" y2="520.5"/>
<line x1="37.38" y1="488.1" x2="37.38" y2="520.5"/>
<line x1="40.9" y1="488.1" x2="40.9" y2="520.5"/>
<line x1="44.42" y1="488.1" x2="44.42" y2="520.5"/>
<line x1="47.94" y1="488.1" x2="47.94" y2="520.5"/>
<line x1="51.46" y1="488.1" x2="51.46" y2="520.5"/>
<line x1="54.98" y1="488.1" x2="54.98" y2="520.5"/>
<line x1="58.5" y1="488.1" x2="58.5" y2="520.5"/>
<line x1="65.55" y1="488.1" x2="65.55" y2="520.5"/>
<line x1="69.07" y1="488.1" x2="69.07" y2="520.5"/>
<line x1="72.59" y1="488.1" x2="72.59" y2="520.5"/>
<line x1="76.11" y1="488.1" x2="76.11" y2="520.5"/>
<line x1="79.63" y1="488.1" x2="79.63" y2="520.5"/>
<line x1="83.15" y1="488.1" x2="83.15" y2="520.5"/>
<line x1="86.67" y1="488.1" x2="86.67" y2="520.5"/>
<line x1="90.19" y1="488.1" x2="90.19" y2="520.5"/>
<line x1="93.71" y1="488.1" x2="93.71" y2="520.5"/>
<line x1="97.23" y1="488.1" x2="97.23" y2="520.5"/>
<line x1="104.27" y1="488.1" x2="104.27" y2="520.5"/>
<line x1="107.79" y1="488.1" x2="107.79" y2="520.5"/>
<line x1="111.31" y1="488.1" x2="111.31" y2="520.5"/>
<line x1="114.83" y1="488.1" x2="114.83" y2="520.5"/>
<line x1="118.35" y1="488.1" x2="118.35" y2="520.5"/>
<line x1="121.87" y1="488.1" x2="121.87" y2="520.5"/>
<line x1="125.39" y1="488.1" x2="125.39" y2="520.5"/>
<line x1="128.91" y1="488.1" x2="128.91" y2="520.5"/>
<line x1="132.43" y1="488.1" x2="132.43" y2="520.5"/>
<line x1="135.95" y1="488.1" x2="135.95" y2="520.5"/>
<line x1="143" y1="488.1" x2="143" y2="520.5"/>
<line x1="146.52" y1="488.1" x2="146.52" y2="520.5"/>
<line x1="150.04" y1="488.1" x2="150.04" y2="520.5"/>
<line x1="153.56" y1="488.1" x2="153.56" y2="520.5"/>
<line x1="157.08" y1="488.1" x2="157.08" y2="520.5"/>
<line x1="160.6" y1="488.1" x2="160.6" y2="520.5"/>
<line x1="164.12" y1="488.1" x2="164.12" y2="520.5"/>
<line x1="167.64" y1="488.1" x2="167.64" y2="520.5"/>
<line x1="171.16" y1="488.1" x2="171.16" y2="520.5"/>
<line x1="174.68" y1="488.1" x2="174.68" y2="520.5"/>
<line x1="181.72" y1="488.1" x2="181.72" y2="520.5"/>
<line x1="185.24" y1="488.1" x2="185.24" y2="520.5"/>
<line x1="188.76" y1="488.1" x2="188.76" y2="520.5"/>
<line x1="192.28" y1="488.1" x2="192.28" y2="520.5"/>
<line x1="195.8" y1="488.1" x2="195.8" y2="520.5"/>
<line x1="199.32" y1="488.1" x2="199.32" y2="520.5"/>
<line x1="202.84" y1="488.1" x2="202.84" y2="520.5"/>
<line x1="206.36" y1="488.1" x2="206.36" y2="520.5"/>
<line x1="209.88" y1="488.1" x2="209.88" y2="520.5"/>
<line x1="213.4" y1="488.1" x2="213.4" y2="520.5"/>
<line x1="220.45" y1="488.1" x2="220.45" y2="520.5"/>
<line x1="223.97" y1="488.1" x2="223.97" y2="520.5"/>
<line x1="227.49" y1="488.1" x2="227.49" y2="520.5"/>
<line x1="231.01" y1="488.1" x2="231.01" y2="520.5"/>
<line x1="234.53" y1="488.1" x2="234.53" y2="520.5"/>
<line x1="238.05" y1="488.1" x2="238.05" y2="520.5"/>
<line x1="241.57" y1="488.1" x2="241.57" y2="520.5"/>
<line x1="245.09" y1="488.1" x2="245.09" y2="520.5"/>
<line x1="248.61" y1="488.1" x2="248.61" y2="520.5"/>
<line x1="252.13" y1="488.1" x2="252.13" y2="520.5"/>
<line x1="259.17" y1="488.1" x2="259.17" y2="520.5"/>
<line x1="262.69" y1="488.1" x2="262.69" y2="520.5"/>
<line x1="266.21" y1="488.1" x2="266.21" y2="520.5"/>
<line x1="269.73" y1="488.1" x2="269.73" y2="520.5"/>
<line x1="273.25" y1="488.1" x2="273.25" y2="520.5"/>
<line x1="276.77" y1="488.1" x2="276.77" y2="520.5"/>
<line x1="280.29" y1="488.1" x2="280.29" y2="520.5"/>
<line x1="283.81" y1="488.1" x2="283.81" y2="520.5"/>
<line x1="287.33" y1="488.1" x2="287.33" y2="520.5"/>
<line x1="290.85" y1="488.1" x2="290.85" y2="520.5"/>
<line x1="297.9" y1="488.1" x2="297.9" y2="520.5"/>
<line x1="301.42" y1="488.1" x2="301.42" y2="520.5"/>
<line x1="304.94" y1="488.1" x2="304.94" y2="520.5"/>
<line x1="308.46" y1="488.1" x2="308.46" y2="520.5"/>
<line x1="311.98" y1="488.1" x2="311.98" y2="520.5"/>
<line x1="315.5" y1="488.1" x2="315.5" y2="520.5"/>
<line x1="319.02" y1="488.1" x2="319.02" y2="520.5"/>
<line x1="322.54" y1="488.1" x2="322.54" y2="520.5"/>
<line x1="326.06" y1="488.1" x2="326.06" y2="520.5"/>
<line x1="329.58" y1="488.1" x2="329.58" y2="520.5"/>
<line x1="336.62" y1="488.1" x2="336.62" y2="520.5"/>
<line x1="340.14" y1="488.1" x2="340.14" y2="520.5"/>
<line x1="343.66" y1="488.1" x2="343.66" y2="520.5"/>
<line x1="347.18" y1="488.1" x2="347.18" y2="520.5"/>
<line x1="350.7" y1="488.1" x2="350.7" y2="520.5"/>
<line x1="354.22" y1="488.1" x2="354.22" y2="520.5"/>
<line x1="357.74" y1="488.1" x2="357.74" y2="520.5"/>
<line x1="361.26" y1="488.1" x2="361.26" y2="520.5"/>
<line x1="364.78" y1="488.1" x2="364.78" y2="520.5"/>
<line x1="368.3" y1="488.1" x2="368.3" y2="520.5"/>
<line x1="375.35" y1="488.1" x2="375.35" y2="520.5"/>
<line x1="378.87" y1="488.1" x2="378.87" y2="520.5"/>
<line x1="382.39" y1="488.1" x2="382.39" y2="520.5"/>
<line x1="385.91" y1="488.1" x2="385.91" y2="520.5"/>
<line x1="389.43" y1="488.1" x2="389.43" y2="520.5"/>
<line x1="392.95" y1="488.1" x2="392.95" y2="520.5"/>
<line x1="396.47" y1="488.1" x2="396.47" y2="520.5"/>
<line x1="399.99" y1="488.1" x2="399.99" y2="520.5"/>
<line x1="403.51" y1="488.1" x2="403.51" y2="520.5"/>
<line x1="407.03" y1="488.1" x2="407.03" y2="520.5"/>
<line x1="414.07" y1="488.1" x2="414.07" y2="520.5"/>
<line x1="417.59" y1="488.1" x2="417.59" y2="520.5"/>
<line x1="421.11" y1="488.1" x2="421.11" y2="520.5"/>
<line x1="424.63" y1="488.1" x2="424.63" y2="520.5"/>
<line x1="428.15" y1="488.1" x2="428.15" y2="520.5"/>
<line x1="431.67" y1="488.1" x2="431.67" y2="520.5"/>
<line x1="435.19" y1="488.1" x2="435.19" y2="520.5"/>
<line x1="438.71" y1="488.1" x2="438.71" y2="520.5"/>
<line x1="442.23" y1="488.1" x2="442.23" y2="520.5"/>
<line x1="445.75" y1="488.1" x2="445.75" y2="520.5"/>
<line x1="452.8" y1="488.1" x2="452.8" y2="520.5"/>
<line x1="456.32" y1="488.1" x2="456.32" y2="520.5"/>
<line x1="459.84" y1="488.1" x2="459.84" y2="520.5"/>
<line x1="463.36" y1="488.1" x2="463.36" y2="520.5"/>
<line x1="466.88" y1="488.1" x2="466.88" y2="520.5"/>
<line x1="470.4" y1="488.1" x2="470.4" y2="520.5"/>
<line x1="473.92" y1="488.1" x2="473.92" y2="520.5"/>
<line x1="477.44" y1="488.1" x2="477.44" y2="520.5"/>
<line x1="480.96" y1="488.1" x2="480.96" y2="520.5"/>
<line x1="484.48" y1="488.1" x2="484.48" y2="520.5"/>
</g>
<g stroke="#b4b4b4" stroke-width="0.6">
<line x1="62.03" y1="488.1" x2="62.03" y2="539"/>
<line x1="100.75" y1="488.1" x2="100.75" y2="539"/>
<line x1="139.47" y1="488.1" x2="139.47" y2="539"/>
<line x1="178.2" y1="488.1" x2="178.2" y2="539"/>
<line x1="216.93" y1="488.1" x2="216.93" y2="539"/>
<line x1="255.65" y1="488.1" x2="255.65" y2="539"/>
<line x1="294.38" y1="488.1" x2="294.38" y2="539"/>
<line x1="333.1" y1="488.1" x2="333.1" y2="539"/>
<line x1="371.82" y1="488.1" x2="371.82" y2="539"/>
<line x1="410.55" y1="488.1" x2="410.55" y2="539"/>
<line x1="449.28" y1="488.1" x2="449.28" y2="539"/>
<line x1="488" y1="488.1" x2="488" y2="539"/>
</g>
<line x1="21.1" y1="488.1" x2="488" y2="488.1" stroke="#c0c0c0" stroke-width="0.8"/>
<line x1="23.3" y1="385.2" x2="23.3" y2="539" stroke="#bcbcbc" stroke-width="0.9"/>
<g stroke="#bcbcbc" stroke-width="0.7">
<line x1="21.1" y1="385.3" x2="23.3" y2="385.3"/>
<line x1="21.1" y1="398.15" x2="23.3" y2="398.15"/>
<line x1="21.1" y1="411" x2="23.3" y2="411"/>
<line x1="21.1" y1="423.85" x2="23.3" y2="423.85"/>
<line x1="21.1" y1="436.7" x2="23.3" y2="436.7"/>
<line x1="21.1" y1="449.55" x2="23.3" y2="449.55"/>
<line x1="21.1" y1="462.4" x2="23.3" y2="462.4"/>
<line x1="21.1" y1="475.25" x2="23.3" y2="475.25"/>
<line x1="21.1" y1="488.1" x2="23.3" y2="488.1"/>
<line x1="21.1" y1="500.95" x2="23.3" y2="500.95"/>
</g>
<g font-size="7.4" font-weight="bold" text-anchor="end" fill="#0a0a0a">
<text transform="translate(17.1 387.96) scale(0.86 1)">4</text>
<text transform="translate(17.1 400.81) scale(0.86 1)">3.5</text>
<text transform="translate(17.1 413.66) scale(0.86 1)">3</text>
<text transform="translate(17.1 426.51) scale(0.86 1)">2.5</text>
<text transform="translate(17.1 439.36) scale(0.86 1)">2</text>
<text transform="translate(17.1 452.21) scale(0.86 1)">1.5</text>
<text transform="translate(17.1 465.06) scale(0.86 1)">1</text>
<text transform="translate(17.1 477.91) scale(0.86 1)">0.5</text>
<text transform="translate(17.1 490.76) scale(0.86 1)">0</text>
<text transform="translate(17.1 503.61) scale(0.86 1)">-0.5</text>
</g>
<g font-size="6.0" font-weight="bold" fill="#0a0a0a" text-anchor="end">
<text transform="translate(27.22 497.1) rotate(-90) scale(1.38 1)">Ch</text>
<text transform="translate(37.78 497.1) rotate(-90) scale(1.38 1)">pH</text>
<text transform="translate(48.34 497.1) rotate(-90) scale(1.38 1)">Fl</text>
<text transform="translate(58.9 497.1) rotate(-90) scale(1.38 1)">Hard</text>
<text transform="translate(69.47 497.1) rotate(-90) scale(1.38 1)">Fe</text>
<text transform="translate(80.03 497.1) rotate(-90) scale(1.38 1)">Ca</text>
<text transform="translate(90.59 497.1) rotate(-90) scale(1.38 1)">TDS</text>
<text transform="translate(101.15 497.1) rotate(-90) scale(1.38 1)">So</text>
<text transform="translate(111.71 497.1) rotate(-90) scale(1.38 1)">NI</text>
<text transform="translate(122.27 497.1) rotate(-90) scale(1.38 1)">Mg</text>
<text transform="translate(132.83 497.1) rotate(-90) scale(1.38 1)">Alk</text>
<text transform="translate(143.4 497.1) rotate(-90) scale(1.38 1)">Turb</text>
<text transform="translate(153.96 497.1) rotate(-90) scale(1.38 1)">pH</text>
<text transform="translate(164.52 497.1) rotate(-90) scale(1.38 1)">Fl</text>
<text transform="translate(175.08 497.1) rotate(-90) scale(1.38 1)">Hard</text>
<text transform="translate(185.64 497.1) rotate(-90) scale(1.38 1)">Ch</text>
<text transform="translate(196.2 497.1) rotate(-90) scale(1.38 1)">Ca</text>
<text transform="translate(206.76 497.1) rotate(-90) scale(1.38 1)">TDS</text>
<text transform="translate(217.32 497.1) rotate(-90) scale(1.38 1)">So</text>
<text transform="translate(227.89 497.1) rotate(-90) scale(1.38 1)">Fe</text>
<text transform="translate(238.45 497.1) rotate(-90) scale(1.38 1)">Mg</text>
<text transform="translate(249.01 497.1) rotate(-90) scale(1.38 1)">Alk</text>
<text transform="translate(259.57 497.1) rotate(-90) scale(1.38 1)">Turb</text>
<text transform="translate(270.13 497.1) rotate(-90) scale(1.38 1)">NI</text>
<text transform="translate(280.69 497.1) rotate(-90) scale(1.38 1)">Fl</text>
<text transform="translate(291.25 497.1) rotate(-90) scale(1.38 1)">Hard</text>
<text transform="translate(301.82 497.1) rotate(-90) scale(1.38 1)">Ch</text>
<text transform="translate(312.38 497.1) rotate(-90) scale(1.38 1)">pH</text>
<text transform="translate(322.94 497.1) rotate(-90) scale(1.38 1)">TDS</text>
<text transform="translate(333.5 497.1) rotate(-90) scale(1.38 1)">So</text>
<text transform="translate(344.06 497.1) rotate(-90) scale(1.38 1)">Fe</text>
<text transform="translate(354.62 497.1) rotate(-90) scale(1.38 1)">Ca</text>
<text transform="translate(365.18 497.1) rotate(-90) scale(1.38 1)">Alk</text>
<text transform="translate(375.75 497.1) rotate(-90) scale(1.38 1)">Turb</text>
<text transform="translate(386.31 497.1) rotate(-90) scale(1.38 1)">NI</text>
<text transform="translate(396.87 497.1) rotate(-90) scale(1.38 1)">Mg</text>
<text transform="translate(407.43 497.1) rotate(-90) scale(1.38 1)">Hard</text>
<text transform="translate(417.99 497.1) rotate(-90) scale(1.38 1)">Ch</text>
<text transform="translate(428.55 497.1) rotate(-90) scale(1.38 1)">pH</text>
<text transform="translate(439.11 497.1) rotate(-90) scale(1.38 1)">Fl</text>
<text transform="translate(449.67 497.1) rotate(-90) scale(1.38 1)">So</text>
<text transform="translate(460.24 497.1) rotate(-90) scale(1.38 1)">Fe</text>
<text transform="translate(470.8 497.1) rotate(-90) scale(1.38 1)">Ca</text>
<text transform="translate(481.36 497.1) rotate(-90) scale(1.38 1)">TDS</text>
</g>
<g font-size="7.0" font-weight="bold" fill="#0a0a0a" text-anchor="middle">
<text x="43.1" y="538.3" textLength="27.1" lengthAdjust="spacingAndGlyphs">Turbidity</text>
<text x="85.9" y="537.6" textLength="25.8" lengthAdjust="spacingAndGlyphs">Chloride</text>
<text x="120.8" y="538.3" textLength="11.7" lengthAdjust="spacingAndGlyphs">Iron</text>
<text x="158.9" y="535.6" textLength="21.6" lengthAdjust="spacingAndGlyphs">Nitrate</text>
<text x="197.4" y="539.1" textLength="8" lengthAdjust="spacingAndGlyphs">pH</text>
<text x="236.4" y="536" textLength="23.9" lengthAdjust="spacingAndGlyphs">Calcium</text>
<text x="275.1" y="538.8" textLength="35.9" lengthAdjust="spacingAndGlyphs">Magnesium</text>
<text x="314.8" y="536.3" textLength="24.7" lengthAdjust="spacingAndGlyphs">Fluoride</text>
<text x="352.7" y="538.8" textLength="9.6" lengthAdjust="spacingAndGlyphs">TDS</text>
<text x="396.4" y="536" textLength="30.3" lengthAdjust="spacingAndGlyphs">Alkalinity</text>
<text x="430.1" y="538.3" textLength="27.5" lengthAdjust="spacingAndGlyphs">Hardness</text>
<text x="473.6" y="535.6" textLength="27.9" lengthAdjust="spacingAndGlyphs">Sulphate</text>
</g>
<text transform="translate(31.8 386.9) scale(0.93 1)" font-size="6.9" font-weight="bold" fill="#0a0a0a">Site-8</text>
<polyline points="25.06,476.79 28.58,480.39 32.1,480.39 35.62,482.45 39.14,482.45 42.66,481.42 46.18,480.39 49.7,478.59 53.22,480.39 56.74,480.39 60.26,480.39 63.79,441.33 67.31,467.8 70.83,473.19 74.35,476.02 77.87,474.99 81.39,473.19 84.91,471.4 88.43,469.6 91.95,472.42 95.47,473.19 98.99,473.19 102.51,435.93 106.03,464.97 109.55,466.25 113.07,471.4 116.59,473.19 120.11,470.37 123.63,464.97 127.15,464.97 130.67,464.97 134.19,467.8 137.71,469.6 141.24,433.1 144.76,464.97 148.28,466 151.8,470.37 155.32,473.19 158.84,470.37 162.36,464.97 165.88,464.2 169.4,464.2 172.92,466.77 176.44,467.8 179.96,406.63 183.48,450.32 187,453.15 190.52,454.95 194.04,466 197.56,458.55 201.08,453.15 204.6,453.92 208.12,458.55 211.64,458.55 215.16,456.75 218.69,401.23 222.21,441.33 225.73,449.55 229.25,452.12 232.77,460.34 236.29,455.98 239.81,452.12 243.33,449.55 246.85,454.18 250.37,454.95 253.89,457.77 257.41,413.83 260.93,447.75 264.45,452.12 267.97,454.95 271.49,464.97 275.01,466.77 278.53,455.98 282.05,453.92 285.57,456.75 289.09,460.34 292.61,460.34 296.14,434.13 299.66,461.37 303.18,460.34 306.7,461.37 310.22,466.77 313.74,471.4 317.26,468.57 320.78,463.17 324.3,464.2 327.82,464.97 331.34,466 334.86,431.56 338.38,462.4 341.9,463.17 345.42,466 348.94,471.4 352.46,472.42 355.98,469.6 359.5,464.97 363.02,464.97 366.54,466.77 370.06,464.2 373.59,442.1 377.11,463.17 380.63,463.17 384.15,466.77 387.67,470.37 391.19,472.42 394.71,469.6 398.23,464.97 401.75,466 405.27,466.77 408.79,467.8 412.31,422.05 415.83,453.15 419.35,456.75 422.87,459.57 426.39,466 429.91,468.57 433.43,464.97 436.95,461.37 440.47,460.34 443.99,462.4 447.51,457.77 451.04,417.68 454.56,454.18 458.08,455.98 461.6,457.77 465.12,466 468.64,469.6 472.16,464.97 475.68,461.37 479.2,457.77 482.72,461.37 486.24,462.4" fill="none" stroke="#2f7fcb" stroke-width="1.7" stroke-linejoin="round"/>
<g fill="#2f7fcb">
<path d="M25.06 473.34l3 3.45 l-3 3.45 l-3 -3.45 z"/>
<path d="M28.58 476.94l3 3.45 l-3 3.45 l-3 -3.45 z"/>
<path d="M32.1 476.94l3 3.45 l-3 3.45 l-3 -3.45 z"/>
<path d="M35.62 479l3 3.45 l-3 3.45 l-3 -3.45 z"/>
<path d="M39.14 479l3 3.45 l-3 3.45 l-3 -3.45 z"/>
<path d="M42.66 477.97l3 3.45 l-3 3.45 l-3 -3.45 z"/>
<path d="M46.18 476.94l3 3.45 l-3 3.45 l-3 -3.45 z"/>
<path d="M49.7 475.14l3 3.45 l-3 3.45 l-3 -3.45 z"/>
<path d="M53.22 476.94l3 3.45 l-3 3.45 l-3 -3.45 z"/>
<path d="M56.74 476.94l3 3.45 l-3 3.45 l-3 -3.45 z"/>
<path d="M60.26 476.94l3 3.45 l-3 3.45 l-3 -3.45 z"/>
<path d="M63.79 437.88l3 3.45 l-3 3.45 l-3 -3.45 z"/>
<path d="M67.31 464.35l3 3.45 l-3 3.45 l-3 -3.45 z"/>
<path d="M70.83 469.74l3 3.45 l-3 3.45 l-3 -3.45 z"/>
<path d="M74.35 472.57l3 3.45 l-3 3.45 l-3 -3.45 z"/>
<path d="M77.87 471.54l3 3.45 l-3 3.45 l-3 -3.45 z"/>
<path d="M81.39 469.74l3 3.45 l-3 3.45 l-3 -3.45 z"/>
<path d="M84.91 467.95l3 3.45 l-3 3.45 l-3 -3.45 z"/>
<path d="M88.43 466.15l3 3.45 l-3 3.45 l-3 -3.45 z"/>
<path d="M91.95 468.97l3 3.45 l-3 3.45 l-3 -3.45 z"/>
<path d="M95.47 469.74l3 3.45 l-3 3.45 l-3 -3.45 z"/>
<path d="M98.99 469.74l3 3.45 l-3 3.45 l-3 -3.45 z"/>
<path d="M102.51 432.48l3 3.45 l-3 3.45 l-3 -3.45 z"/>
<path d="M106.03 461.52l3 3.45 l-3 3.45 l-3 -3.45 z"/>
<path d="M109.55 462.81l3 3.45 l-3 3.45 l-3 -3.45 z"/>
<path d="M113.07 467.95l3 3.45 l-3 3.45 l-3 -3.45 z"/>
<path d="M116.59 469.74l3 3.45 l-3 3.45 l-3 -3.45 z"/>
<path d="M120.11 466.92l3 3.45 l-3 3.45 l-3 -3.45 z"/>
<path d="M123.63 461.52l3 3.45 l-3 3.45 l-3 -3.45 z"/>
<path d="M127.15 461.52l3 3.45 l-3 3.45 l-3 -3.45 z"/>
<path d="M130.67 461.52l3 3.45 l-3 3.45 l-3 -3.45 z"/>
<path d="M134.19 464.35l3 3.45 l-3 3.45 l-3 -3.45 z"/>
<path d="M137.71 466.15l3 3.45 l-3 3.45 l-3 -3.45 z"/>
<path d="M141.24 429.65l3 3.45 l-3 3.45 l-3 -3.45 z"/>
<path d="M144.76 461.52l3 3.45 l-3 3.45 l-3 -3.45 z"/>
<path d="M148.28 462.55l3 3.45 l-3 3.45 l-3 -3.45 z"/>
<path d="M151.8 466.92l3 3.45 l-3 3.45 l-3 -3.45 z"/>
<path d="M155.32 469.74l3 3.45 l-3 3.45 l-3 -3.45 z"/>
<path d="M158.84 466.92l3 3.45 l-3 3.45 l-3 -3.45 z"/>
<path d="M162.36 461.52l3 3.45 l-3 3.45 l-3 -3.45 z"/>
<path d="M165.88 460.75l3 3.45 l-3 3.45 l-3 -3.45 z"/>
<path d="M169.4 460.75l3 3.45 l-3 3.45 l-3 -3.45 z"/>
<path d="M172.92 463.32l3 3.45 l-3 3.45 l-3 -3.45 z"/>
<path d="M176.44 464.35l3 3.45 l-3 3.45 l-3 -3.45 z"/>
<path d="M179.96 403.18l3 3.45 l-3 3.45 l-3 -3.45 z"/>
<path d="M183.48 446.87l3 3.45 l-3 3.45 l-3 -3.45 z"/>
<path d="M187 449.7l3 3.45 l-3 3.45 l-3 -3.45 z"/>
<path d="M190.52 451.5l3 3.45 l-3 3.45 l-3 -3.45 z"/>
<path d="M194.04 462.55l3 3.45 l-3 3.45 l-3 -3.45 z"/>
<path d="M197.56 455.1l3 3.45 l-3 3.45 l-3 -3.45 z"/>
<path d="M201.08 449.7l3 3.45 l-3 3.45 l-3 -3.45 z"/>
<path d="M204.6 450.47l3 3.45 l-3 3.45 l-3 -3.45 z"/>
<path d="M208.12 455.1l3 3.45 l-3 3.45 l-3 -3.45 z"/>
<path d="M211.64 455.1l3 3.45 l-3 3.45 l-3 -3.45 z"/>
<path d="M215.16 453.3l3 3.45 l-3 3.45 l-3 -3.45 z"/>
<path d="M218.69 397.78l3 3.45 l-3 3.45 l-3 -3.45 z"/>
<path d="M222.21 437.88l3 3.45 l-3 3.45 l-3 -3.45 z"/>
<path d="M225.73 446.1l3 3.45 l-3 3.45 l-3 -3.45 z"/>
<path d="M229.25 448.67l3 3.45 l-3 3.45 l-3 -3.45 z"/>
<path d="M232.77 456.89l3 3.45 l-3 3.45 l-3 -3.45 z"/>
<path d="M236.29 452.53l3 3.45 l-3 3.45 l-3 -3.45 z"/>
<path d="M239.81 448.67l3 3.45 l-3 3.45 l-3 -3.45 z"/>
<path d="M243.33 446.1l3 3.45 l-3 3.45 l-3 -3.45 z"/>
<path d="M246.85 450.73l3 3.45 l-3 3.45 l-3 -3.45 z"/>
<path d="M250.37 451.5l3 3.45 l-3 3.45 l-3 -3.45 z"/>
<path d="M253.89 454.32l3 3.45 l-3 3.45 l-3 -3.45 z"/>
<path d="M257.41 410.38l3 3.45 l-3 3.45 l-3 -3.45 z"/>
<path d="M260.93 444.3l3 3.45 l-3 3.45 l-3 -3.45 z"/>
<path d="M264.45 448.67l3 3.45 l-3 3.45 l-3 -3.45 z"/>
<path d="M267.97 451.5l3 3.45 l-3 3.45 l-3 -3.45 z"/>
<path d="M271.49 461.52l3 3.45 l-3 3.45 l-3 -3.45 z"/>
<path d="M275.01 463.32l3 3.45 l-3 3.45 l-3 -3.45 z"/>
<path d="M278.53 452.53l3 3.45 l-3 3.45 l-3 -3.45 z"/>
<path d="M282.05 450.47l3 3.45 l-3 3.45 l-3 -3.45 z"/>
<path d="M285.57 453.3l3 3.45 l-3 3.45 l-3 -3.45 z"/>
<path d="M289.09 456.89l3 3.45 l-3 3.45 l-3 -3.45 z"/>
<path d="M292.61 456.89l3 3.45 l-3 3.45 l-3 -3.45 z"/>
<path d="M296.14 430.68l3 3.45 l-3 3.45 l-3 -3.45 z"/>
<path d="M299.66 457.92l3 3.45 l-3 3.45 l-3 -3.45 z"/>
<path d="M303.18 456.89l3 3.45 l-3 3.45 l-3 -3.45 z"/>
<path d="M306.7 457.92l3 3.45 l-3 3.45 l-3 -3.45 z"/>
<path d="M310.22 463.32l3 3.45 l-3 3.45 l-3 -3.45 z"/>
<path d="M313.74 467.95l3 3.45 l-3 3.45 l-3 -3.45 z"/>
<path d="M317.26 465.12l3 3.45 l-3 3.45 l-3 -3.45 z"/>
<path d="M320.78 459.72l3 3.45 l-3 3.45 l-3 -3.45 z"/>
<path d="M324.3 460.75l3 3.45 l-3 3.45 l-3 -3.45 z"/>
<path d="M327.82 461.52l3 3.45 l-3 3.45 l-3 -3.45 z"/>
<path d="M331.34 462.55l3 3.45 l-3 3.45 l-3 -3.45 z"/>
<path d="M334.86 428.11l3 3.45 l-3 3.45 l-3 -3.45 z"/>
<path d="M338.38 458.95l3 3.45 l-3 3.45 l-3 -3.45 z"/>
<path d="M341.9 459.72l3 3.45 l-3 3.45 l-3 -3.45 z"/>
<path d="M345.42 462.55l3 3.45 l-3 3.45 l-3 -3.45 z"/>
<path d="M348.94 467.95l3 3.45 l-3 3.45 l-3 -3.45 z"/>
<path d="M352.46 468.97l3 3.45 l-3 3.45 l-3 -3.45 z"/>
<path d="M355.98 466.15l3 3.45 l-3 3.45 l-3 -3.45 z"/>
<path d="M359.5 461.52l3 3.45 l-3 3.45 l-3 -3.45 z"/>
<path d="M363.02 461.52l3 3.45 l-3 3.45 l-3 -3.45 z"/>
<path d="M366.54 463.32l3 3.45 l-3 3.45 l-3 -3.45 z"/>
<path d="M370.06 460.75l3 3.45 l-3 3.45 l-3 -3.45 z"/>
<path d="M373.59 438.65l3 3.45 l-3 3.45 l-3 -3.45 z"/>
<path d="M377.11 459.72l3 3.45 l-3 3.45 l-3 -3.45 z"/>
<path d="M380.63 459.72l3 3.45 l-3 3.45 l-3 -3.45 z"/>
<path d="M384.15 463.32l3 3.45 l-3 3.45 l-3 -3.45 z"/>
<path d="M387.67 466.92l3 3.45 l-3 3.45 l-3 -3.45 z"/>
<path d="M391.19 468.97l3 3.45 l-3 3.45 l-3 -3.45 z"/>
<path d="M394.71 466.15l3 3.45 l-3 3.45 l-3 -3.45 z"/>
<path d="M398.23 461.52l3 3.45 l-3 3.45 l-3 -3.45 z"/>
<path d="M401.75 462.55l3 3.45 l-3 3.45 l-3 -3.45 z"/>
<path d="M405.27 463.32l3 3.45 l-3 3.45 l-3 -3.45 z"/>
<path d="M408.79 464.35l3 3.45 l-3 3.45 l-3 -3.45 z"/>
<path d="M412.31 418.6l3 3.45 l-3 3.45 l-3 -3.45 z"/>
<path d="M415.83 449.7l3 3.45 l-3 3.45 l-3 -3.45 z"/>
<path d="M419.35 453.3l3 3.45 l-3 3.45 l-3 -3.45 z"/>
<path d="M422.87 456.12l3 3.45 l-3 3.45 l-3 -3.45 z"/>
<path d="M426.39 462.55l3 3.45 l-3 3.45 l-3 -3.45 z"/>
<path d="M429.91 465.12l3 3.45 l-3 3.45 l-3 -3.45 z"/>
<path d="M433.43 461.52l3 3.45 l-3 3.45 l-3 -3.45 z"/>
<path d="M436.95 457.92l3 3.45 l-3 3.45 l-3 -3.45 z"/>
<path d="M440.47 456.89l3 3.45 l-3 3.45 l-3 -3.45 z"/>
<path d="M443.99 458.95l3 3.45 l-3 3.45 l-3 -3.45 z"/>
<path d="M447.51 454.32l3 3.45 l-3 3.45 l-3 -3.45 z"/>
<path d="M451.04 414.23l3 3.45 l-3 3.45 l-3 -3.45 z"/>
<path d="M454.56 450.73l3 3.45 l-3 3.45 l-3 -3.45 z"/>
<path d="M458.08 452.53l3 3.45 l-3 3.45 l-3 -3.45 z"/>
<path d="M461.6 454.32l3 3.45 l-3 3.45 l-3 -3.45 z"/>
<path d="M465.12 462.55l3 3.45 l-3 3.45 l-3 -3.45 z"/>
<path d="M468.64 466.15l3 3.45 l-3 3.45 l-3 -3.45 z"/>
<path d="M472.16 461.52l3 3.45 l-3 3.45 l-3 -3.45 z"/>
<path d="M475.68 457.92l3 3.45 l-3 3.45 l-3 -3.45 z"/>
<path d="M479.2 454.32l3 3.45 l-3 3.45 l-3 -3.45 z"/>
<path d="M482.72 457.92l3 3.45 l-3 3.45 l-3 -3.45 z"/>
<path d="M486.24 458.95l3 3.45 l-3 3.45 l-3 -3.45 z"/>
</g>
<polyline points="25.06,447.75 28.58,444.15 32.1,443.12 35.62,441.33 39.14,441.33 42.66,442.1 46.18,444.15 49.7,446.72 53.22,443.12 56.74,443.12 60.26,444.15 63.79,484.25 67.31,455.98 70.83,452.12 74.35,447.75 77.87,448.52 81.39,450.32 84.91,453.15 88.43,454.95 91.95,451.35 95.47,452.12 98.99,450.32 102.51,488.1 106.03,460.34 109.55,459.57 113.07,453.15 116.59,450.32 120.11,453.92 123.63,459.57 127.15,460.34 130.67,460.34 134.19,456.75 137.71,454.95 141.24,486.81 144.76,461.37 148.28,460.34 151.8,453.15 155.32,450.32 158.84,453.15 162.36,459.57 165.88,460.34 169.4,461.37 172.92,456.75 176.44,456.75 179.96,466.77 183.48,473.19 187,471.4 190.52,470.37 194.04,458.55 197.56,467.8 201.08,471.4 204.6,468.57 208.12,464.97 211.64,464.97 215.16,463.17 218.69,451.35 222.21,484.25 225.73,474.99 229.25,472.42 232.77,463.17 236.29,468.57 239.81,471.4 243.33,473.19 246.85,470.37 250.37,468.57 253.89,466.77 257.41,466.77 260.93,473.19 264.45,470.37 267.97,467.8 271.49,459.57 275.01,458.55 278.53,466.77 282.05,468.57 285.57,466.77 289.09,464.2 292.61,464.97 296.14,484.25 299.66,463.17 303.18,464.2 306.7,464.2 310.22,454.95 313.74,453.15 317.26,454.95 320.78,459.57 324.3,458.55 327.82,457.77 331.34,457.77 334.86,480.65 338.38,459.57 341.9,459.57 345.42,459.57 348.94,453.15 352.46,450.32 355.98,453.92 359.5,458.55 363.02,456.75 366.54,455.98 370.06,459.57 373.59,482.45 377.11,458.55 380.63,459.57 384.15,456.75 387.67,451.35 391.19,450.32 394.71,453.92 398.23,459.57 401.75,456.75 405.27,455.98 408.79,457.77 412.31,474.22 415.83,469.6 419.35,466.77 422.87,464.97 426.39,458.55 429.91,457.77 433.43,458.55 436.95,464.2 440.47,466 443.99,464.2 447.51,459.57 451.04,469.6 454.56,469.6 458.08,468.57 461.6,466.77 465.12,460.34 468.64,455.98 472.16,459.57 475.68,464.97 479.2,467.8 482.72,466 486.24,461.37" fill="none" stroke="#e2393e" stroke-width="1.7" stroke-linejoin="round"/>
<g fill="#e2393e">
<rect x="22.06" y="444.75" width="6" height="6"/>
<rect x="25.58" y="441.15" width="6" height="6"/>
<rect x="29.1" y="440.12" width="6" height="6"/>
<rect x="32.62" y="438.33" width="6" height="6"/>
<rect x="36.14" y="438.33" width="6" height="6"/>
<rect x="39.66" y="439.1" width="6" height="6"/>
<rect x="43.18" y="441.15" width="6" height="6"/>
<rect x="46.7" y="443.72" width="6" height="6"/>
<rect x="50.22" y="440.12" width="6" height="6"/>
<rect x="53.74" y="440.12" width="6" height="6"/>
<rect x="57.26" y="441.15" width="6" height="6"/>
<rect x="60.79" y="481.25" width="6" height="6"/>
<rect x="64.31" y="452.98" width="6" height="6"/>
<rect x="67.83" y="449.12" width="6" height="6"/>
<rect x="71.35" y="444.75" width="6" height="6"/>
<rect x="74.87" y="445.52" width="6" height="6"/>
<rect x="78.39" y="447.32" width="6" height="6"/>
<rect x="81.91" y="450.15" width="6" height="6"/>
<rect x="85.43" y="451.95" width="6" height="6"/>
<rect x="88.95" y="448.35" width="6" height="6"/>
<rect x="92.47" y="449.12" width="6" height="6"/>
<rect x="95.99" y="447.32" width="6" height="6"/>
<rect x="99.51" y="485.1" width="6" height="6"/>
<rect x="103.03" y="457.34" width="6" height="6"/>
<rect x="106.55" y="456.57" width="6" height="6"/>
<rect x="110.07" y="450.15" width="6" height="6"/>
<rect x="113.59" y="447.32" width="6" height="6"/>
<rect x="117.11" y="450.92" width="6" height="6"/>
<rect x="120.63" y="456.57" width="6" height="6"/>
<rect x="124.15" y="457.34" width="6" height="6"/>
<rect x="127.67" y="457.34" width="6" height="6"/>
<rect x="131.19" y="453.75" width="6" height="6"/>
<rect x="134.71" y="451.95" width="6" height="6"/>
<rect x="138.24" y="483.81" width="6" height="6"/>
<rect x="141.76" y="458.37" width="6" height="6"/>
<rect x="145.28" y="457.34" width="6" height="6"/>
<rect x="148.8" y="450.15" width="6" height="6"/>
<rect x="152.32" y="447.32" width="6" height="6"/>
<rect x="155.84" y="450.15" width="6" height="6"/>
<rect x="159.36" y="456.57" width="6" height="6"/>
<rect x="162.88" y="457.34" width="6" height="6"/>
<rect x="166.4" y="458.37" width="6" height="6"/>
<rect x="169.92" y="453.75" width="6" height="6"/>
<rect x="173.44" y="453.75" width="6" height="6"/>
<rect x="176.96" y="463.77" width="6" height="6"/>
<rect x="180.48" y="470.19" width="6" height="6"/>
<rect x="184" y="468.4" width="6" height="6"/>
<rect x="187.52" y="467.37" width="6" height="6"/>
<rect x="191.04" y="455.55" width="6" height="6"/>
<rect x="194.56" y="464.8" width="6" height="6"/>
<rect x="198.08" y="468.4" width="6" height="6"/>
<rect x="201.6" y="465.57" width="6" height="6"/>
<rect x="205.12" y="461.97" width="6" height="6"/>
<rect x="208.64" y="461.97" width="6" height="6"/>
<rect x="212.16" y="460.17" width="6" height="6"/>
<rect x="215.69" y="448.35" width="6" height="6"/>
<rect x="219.21" y="481.25" width="6" height="6"/>
<rect x="222.73" y="471.99" width="6" height="6"/>
<rect x="226.25" y="469.42" width="6" height="6"/>
<rect x="229.77" y="460.17" width="6" height="6"/>
<rect x="233.29" y="465.57" width="6" height="6"/>
<rect x="236.81" y="468.4" width="6" height="6"/>
<rect x="240.33" y="470.19" width="6" height="6"/>
<rect x="243.85" y="467.37" width="6" height="6"/>
<rect x="247.37" y="465.57" width="6" height="6"/>
<rect x="250.89" y="463.77" width="6" height="6"/>
<rect x="254.41" y="463.77" width="6" height="6"/>
<rect x="257.93" y="470.19" width="6" height="6"/>
<rect x="261.45" y="467.37" width="6" height="6"/>
<rect x="264.97" y="464.8" width="6" height="6"/>
<rect x="268.49" y="456.57" width="6" height="6"/>
<rect x="272.01" y="455.55" width="6" height="6"/>
<rect x="275.53" y="463.77" width="6" height="6"/>
<rect x="279.05" y="465.57" width="6" height="6"/>
<rect x="282.57" y="463.77" width="6" height="6"/>
<rect x="286.09" y="461.2" width="6" height="6"/>
<rect x="289.61" y="461.97" width="6" height="6"/>
<rect x="293.14" y="481.25" width="6" height="6"/>
<rect x="296.66" y="460.17" width="6" height="6"/>
<rect x="300.18" y="461.2" width="6" height="6"/>
<rect x="303.7" y="461.2" width="6" height="6"/>
<rect x="307.22" y="451.95" width="6" height="6"/>
<rect x="310.74" y="450.15" width="6" height="6"/>
<rect x="314.26" y="451.95" width="6" height="6"/>
<rect x="317.78" y="456.57" width="6" height="6"/>
<rect x="321.3" y="455.55" width="6" height="6"/>
<rect x="324.82" y="454.77" width="6" height="6"/>
<rect x="328.34" y="454.77" width="6" height="6"/>
<rect x="331.86" y="477.65" width="6" height="6"/>
<rect x="335.38" y="456.57" width="6" height="6"/>
<rect x="338.9" y="456.57" width="6" height="6"/>
<rect x="342.42" y="456.57" width="6" height="6"/>
<rect x="345.94" y="450.15" width="6" height="6"/>
<rect x="349.46" y="447.32" width="6" height="6"/>
<rect x="352.98" y="450.92" width="6" height="6"/>
<rect x="356.5" y="455.55" width="6" height="6"/>
<rect x="360.02" y="453.75" width="6" height="6"/>
<rect x="363.54" y="452.98" width="6" height="6"/>
<rect x="367.06" y="456.57" width="6" height="6"/>
<rect x="370.59" y="479.45" width="6" height="6"/>
<rect x="374.11" y="455.55" width="6" height="6"/>
<rect x="377.63" y="456.57" width="6" height="6"/>
<rect x="381.15" y="453.75" width="6" height="6"/>
<rect x="384.67" y="448.35" width="6" height="6"/>
<rect x="388.19" y="447.32" width="6" height="6"/>
<rect x="391.71" y="450.92" width="6" height="6"/>
<rect x="395.23" y="456.57" width="6" height="6"/>
<rect x="398.75" y="453.75" width="6" height="6"/>
<rect x="402.27" y="452.98" width="6" height="6"/>
<rect x="405.79" y="454.77" width="6" height="6"/>
<rect x="409.31" y="471.22" width="6" height="6"/>
<rect x="412.83" y="466.6" width="6" height="6"/>
<rect x="416.35" y="463.77" width="6" height="6"/>
<rect x="419.87" y="461.97" width="6" height="6"/>
<rect x="423.39" y="455.55" width="6" height="6"/>
<rect x="426.91" y="454.77" width="6" height="6"/>
<rect x="430.43" y="455.55" width="6" height="6"/>
<rect x="433.95" y="461.2" width="6" height="6"/>
<rect x="437.47" y="463" width="6" height="6"/>
<rect x="440.99" y="461.2" width="6" height="6"/>
<rect x="444.51" y="456.57" width="6" height="6"/>
<rect x="448.04" y="466.6" width="6" height="6"/>
<rect x="451.56" y="466.6" width="6" height="6"/>
<rect x="455.08" y="465.57" width="6" height="6"/>
<rect x="458.6" y="463.77" width="6" height="6"/>
<rect x="462.12" y="457.34" width="6" height="6"/>
<rect x="465.64" y="452.98" width="6" height="6"/>
<rect x="469.16" y="456.57" width="6" height="6"/>
<rect x="472.68" y="461.97" width="6" height="6"/>
<rect x="476.2" y="464.8" width="6" height="6"/>
<rect x="479.72" y="463" width="6" height="6"/>
<rect x="483.24" y="458.37" width="6" height="6"/>
</g>
<polyline points="25.06,484.25 28.58,478.59 32.1,477.82 35.62,474.99 39.14,474.22 42.66,474.99 46.18,479.62 49.7,477.82 53.22,474.99 56.74,476.79 60.26,474.99 63.79,422.05 67.31,476.02 70.83,484.25 74.35,487.84 77.87,488.87 81.39,486.04 84.91,484.25 88.43,478.59 91.95,484.25 95.47,484.25 98.99,484.25 102.51,410.23 106.03,462.4 109.55,463.69 113.07,478.59 116.59,484.25 120.11,477.82 123.63,467.8 127.15,466.77 130.67,466.77 134.19,473.19 137.71,474.99 141.24,413.06 144.76,463.17 148.28,464.97 151.8,477.82 155.32,484.25 158.84,478.59 162.36,467.8 165.88,466.77 169.4,467.8 172.92,471.4 176.44,474.22 179.96,462.4 183.48,439.53 187,443.12 190.52,444.92 194.04,471.4 197.56,454.95 201.08,446.72 204.6,449.55 208.12,456.75 211.64,457.77 215.16,458.55 218.69,483.22 222.21,422.05 225.73,436.7 229.25,445.95 232.77,464.97 236.29,451.35 239.81,444.15 243.33,440.3 246.85,448.27 250.37,451.35 253.89,453.15 257.41,454.95 260.93,437.73 264.45,443.12 267.97,447.75 271.49,467.8 275.01,470.37 278.53,453.15 282.05,448.52 285.57,453.15 289.09,461.37 292.61,461.37 296.14,419.48 299.66,459.57 303.18,459.57 306.7,460.34 310.22,474.99 313.74,481.42 317.26,476.79 320.78,463.17 324.3,466.77 327.82,470.37 331.34,471.4 334.86,424.88 338.38,464.2 341.9,464.97 345.42,467.8 348.94,478.59 352.46,483.22 355.98,478.59 359.5,469.6 363.02,471.4 366.54,474.22 370.06,466.77 373.59,423.85 377.11,464.2 380.63,464.97 384.15,471.4 387.67,480.65 391.19,484.25 394.71,478.59 398.23,469.6 401.75,466.77 405.27,474.22 408.79,476.02 412.31,438.5 415.83,447.75 419.35,452.12 422.87,457.77 426.39,473.19 429.91,476.02 433.43,467.8 436.95,457.77 440.47,457.77 443.99,461.37 447.51,462.4 451.04,447.75 454.56,447.75 458.08,449.55 461.6,451.35 465.12,467.8 468.64,476.02 472.16,467.8 475.68,457.77 479.2,453.15 482.72,457.77 486.24,463.17" fill="none" stroke="#8cc74f" stroke-width="1.7" stroke-linejoin="round"/>
<g fill="#8cc74f">
<path d="M25.06 480.5l3.3 6.3 h-6.6 z"/>
<path d="M28.58 474.84l3.3 6.3 h-6.6 z"/>
<path d="M32.1 474.07l3.3 6.3 h-6.6 z"/>
<path d="M35.62 471.24l3.3 6.3 h-6.6 z"/>
<path d="M39.14 470.47l3.3 6.3 h-6.6 z"/>
<path d="M42.66 471.24l3.3 6.3 h-6.6 z"/>
<path d="M46.18 475.87l3.3 6.3 h-6.6 z"/>
<path d="M49.7 474.07l3.3 6.3 h-6.6 z"/>
<path d="M53.22 471.24l3.3 6.3 h-6.6 z"/>
<path d="M56.74 473.04l3.3 6.3 h-6.6 z"/>
<path d="M60.26 471.24l3.3 6.3 h-6.6 z"/>
<path d="M63.79 418.3l3.3 6.3 h-6.6 z"/>
<path d="M67.31 472.27l3.3 6.3 h-6.6 z"/>
<path d="M70.83 480.5l3.3 6.3 h-6.6 z"/>
<path d="M74.35 484.09l3.3 6.3 h-6.6 z"/>
<path d="M77.87 485.12l3.3 6.3 h-6.6 z"/>
<path d="M81.39 482.29l3.3 6.3 h-6.6 z"/>
<path d="M84.91 480.5l3.3 6.3 h-6.6 z"/>
<path d="M88.43 474.84l3.3 6.3 h-6.6 z"/>
<path d="M91.95 480.5l3.3 6.3 h-6.6 z"/>
<path d="M95.47 480.5l3.3 6.3 h-6.6 z"/>
<path d="M98.99 480.5l3.3 6.3 h-6.6 z"/>
<path d="M102.51 406.48l3.3 6.3 h-6.6 z"/>
<path d="M106.03 458.65l3.3 6.3 h-6.6 z"/>
<path d="M109.55 459.94l3.3 6.3 h-6.6 z"/>
<path d="M113.07 474.84l3.3 6.3 h-6.6 z"/>
<path d="M116.59 480.5l3.3 6.3 h-6.6 z"/>
<path d="M120.11 474.07l3.3 6.3 h-6.6 z"/>
<path d="M123.63 464.05l3.3 6.3 h-6.6 z"/>
<path d="M127.15 463.02l3.3 6.3 h-6.6 z"/>
<path d="M130.67 463.02l3.3 6.3 h-6.6 z"/>
<path d="M134.19 469.44l3.3 6.3 h-6.6 z"/>
<path d="M137.71 471.24l3.3 6.3 h-6.6 z"/>
<path d="M141.24 409.31l3.3 6.3 h-6.6 z"/>
<path d="M144.76 459.42l3.3 6.3 h-6.6 z"/>
<path d="M148.28 461.22l3.3 6.3 h-6.6 z"/>
<path d="M151.8 474.07l3.3 6.3 h-6.6 z"/>
<path d="M155.32 480.5l3.3 6.3 h-6.6 z"/>
<path d="M158.84 474.84l3.3 6.3 h-6.6 z"/>
<path d="M162.36 464.05l3.3 6.3 h-6.6 z"/>
<path d="M165.88 463.02l3.3 6.3 h-6.6 z"/>
<path d="M169.4 464.05l3.3 6.3 h-6.6 z"/>
<path d="M172.92 467.65l3.3 6.3 h-6.6 z"/>
<path d="M176.44 470.47l3.3 6.3 h-6.6 z"/>
<path d="M179.96 458.65l3.3 6.3 h-6.6 z"/>
<path d="M183.48 435.78l3.3 6.3 h-6.6 z"/>
<path d="M187 439.38l3.3 6.3 h-6.6 z"/>
<path d="M190.52 441.17l3.3 6.3 h-6.6 z"/>
<path d="M194.04 467.65l3.3 6.3 h-6.6 z"/>
<path d="M197.56 451.2l3.3 6.3 h-6.6 z"/>
<path d="M201.08 442.97l3.3 6.3 h-6.6 z"/>
<path d="M204.6 445.8l3.3 6.3 h-6.6 z"/>
<path d="M208.12 453l3.3 6.3 h-6.6 z"/>
<path d="M211.64 454.02l3.3 6.3 h-6.6 z"/>
<path d="M215.16 454.8l3.3 6.3 h-6.6 z"/>
<path d="M218.69 479.47l3.3 6.3 h-6.6 z"/>
<path d="M222.21 418.3l3.3 6.3 h-6.6 z"/>
<path d="M225.73 432.95l3.3 6.3 h-6.6 z"/>
<path d="M229.25 442.2l3.3 6.3 h-6.6 z"/>
<path d="M232.77 461.22l3.3 6.3 h-6.6 z"/>
<path d="M236.29 447.6l3.3 6.3 h-6.6 z"/>
<path d="M239.81 440.4l3.3 6.3 h-6.6 z"/>
<path d="M243.33 436.55l3.3 6.3 h-6.6 z"/>
<path d="M246.85 444.52l3.3 6.3 h-6.6 z"/>
<path d="M250.37 447.6l3.3 6.3 h-6.6 z"/>
<path d="M253.89 449.4l3.3 6.3 h-6.6 z"/>
<path d="M257.41 451.2l3.3 6.3 h-6.6 z"/>
<path d="M260.93 433.98l3.3 6.3 h-6.6 z"/>
<path d="M264.45 439.38l3.3 6.3 h-6.6 z"/>
<path d="M267.97 444l3.3 6.3 h-6.6 z"/>
<path d="M271.49 464.05l3.3 6.3 h-6.6 z"/>
<path d="M275.01 466.62l3.3 6.3 h-6.6 z"/>
<path d="M278.53 449.4l3.3 6.3 h-6.6 z"/>
<path d="M282.05 444.77l3.3 6.3 h-6.6 z"/>
<path d="M285.57 449.4l3.3 6.3 h-6.6 z"/>
<path d="M289.09 457.62l3.3 6.3 h-6.6 z"/>
<path d="M292.61 457.62l3.3 6.3 h-6.6 z"/>
<path d="M296.14 415.73l3.3 6.3 h-6.6 z"/>
<path d="M299.66 455.82l3.3 6.3 h-6.6 z"/>
<path d="M303.18 455.82l3.3 6.3 h-6.6 z"/>
<path d="M306.7 456.59l3.3 6.3 h-6.6 z"/>
<path d="M310.22 471.24l3.3 6.3 h-6.6 z"/>
<path d="M313.74 477.67l3.3 6.3 h-6.6 z"/>
<path d="M317.26 473.04l3.3 6.3 h-6.6 z"/>
<path d="M320.78 459.42l3.3 6.3 h-6.6 z"/>
<path d="M324.3 463.02l3.3 6.3 h-6.6 z"/>
<path d="M327.82 466.62l3.3 6.3 h-6.6 z"/>
<path d="M331.34 467.65l3.3 6.3 h-6.6 z"/>
<path d="M334.86 421.13l3.3 6.3 h-6.6 z"/>
<path d="M338.38 460.45l3.3 6.3 h-6.6 z"/>
<path d="M341.9 461.22l3.3 6.3 h-6.6 z"/>
<path d="M345.42 464.05l3.3 6.3 h-6.6 z"/>
<path d="M348.94 474.84l3.3 6.3 h-6.6 z"/>
<path d="M352.46 479.47l3.3 6.3 h-6.6 z"/>
<path d="M355.98 474.84l3.3 6.3 h-6.6 z"/>
<path d="M359.5 465.85l3.3 6.3 h-6.6 z"/>
<path d="M363.02 467.65l3.3 6.3 h-6.6 z"/>
<path d="M366.54 470.47l3.3 6.3 h-6.6 z"/>
<path d="M370.06 463.02l3.3 6.3 h-6.6 z"/>
<path d="M373.59 420.1l3.3 6.3 h-6.6 z"/>
<path d="M377.11 460.45l3.3 6.3 h-6.6 z"/>
<path d="M380.63 461.22l3.3 6.3 h-6.6 z"/>
<path d="M384.15 467.65l3.3 6.3 h-6.6 z"/>
<path d="M387.67 476.9l3.3 6.3 h-6.6 z"/>
<path d="M391.19 480.5l3.3 6.3 h-6.6 z"/>
<path d="M394.71 474.84l3.3 6.3 h-6.6 z"/>
<path d="M398.23 465.85l3.3 6.3 h-6.6 z"/>
<path d="M401.75 463.02l3.3 6.3 h-6.6 z"/>
<path d="M405.27 470.47l3.3 6.3 h-6.6 z"/>
<path d="M408.79 472.27l3.3 6.3 h-6.6 z"/>
<path d="M412.31 434.75l3.3 6.3 h-6.6 z"/>
<path d="M415.83 444l3.3 6.3 h-6.6 z"/>
<path d="M419.35 448.37l3.3 6.3 h-6.6 z"/>
<path d="M422.87 454.02l3.3 6.3 h-6.6 z"/>
<path d="M426.39 469.44l3.3 6.3 h-6.6 z"/>
<path d="M429.91 472.27l3.3 6.3 h-6.6 z"/>
<path d="M433.43 464.05l3.3 6.3 h-6.6 z"/>
<path d="M436.95 454.02l3.3 6.3 h-6.6 z"/>
<path d="M440.47 454.02l3.3 6.3 h-6.6 z"/>
<path d="M443.99 457.62l3.3 6.3 h-6.6 z"/>
<path d="M447.51 458.65l3.3 6.3 h-6.6 z"/>
<path d="M451.04 444l3.3 6.3 h-6.6 z"/>
<path d="M454.56 444l3.3 6.3 h-6.6 z"/>
<path d="M458.08 445.8l3.3 6.3 h-6.6 z"/>
<path d="M461.6 447.6l3.3 6.3 h-6.6 z"/>
<path d="M465.12 464.05l3.3 6.3 h-6.6 z"/>
<path d="M468.64 472.27l3.3 6.3 h-6.6 z"/>
<path d="M472.16 464.05l3.3 6.3 h-6.6 z"/>
<path d="M475.68 454.02l3.3 6.3 h-6.6 z"/>
<path d="M479.2 449.4l3.3 6.3 h-6.6 z"/>
<path d="M482.72 454.02l3.3 6.3 h-6.6 z"/>
<path d="M486.24 459.42l3.3 6.3 h-6.6 z"/>
</g>
<line x1="472.5" y1="381.6" x2="485" y2="381.6" stroke="#2f7fcb" stroke-width="1.8"/>
<g fill="#2f7fcb"><path d="M478.75 378.84l2.4 2.76 l-2.4 2.76 l-2.4 -2.76 z"/></g>
<text x="486" y="383.9" font-size="6.4" font-weight="bold" fill="#0a0a0a">H</text>
<line x1="472.5" y1="397.2" x2="485" y2="397.2" stroke="#e2393e" stroke-width="1.8"/>
<g fill="#e2393e"><rect x="476.35" y="394.8" width="4.8" height="4.8"/></g>
<text x="486" y="399.5" font-size="6.4" font-weight="bold" fill="#0a0a0a">Dt</text>
<line x1="472.5" y1="413.7" x2="485" y2="413.7" stroke="#8cc74f" stroke-width="1.8"/>
<g fill="#8cc74f"><path d="M478.75 410.7l2.64 5.04 h-5.28 z"/></g>
<text x="486" y="416" font-size="6.4" font-weight="bold" fill="#0a0a0a">Pit</text>
</svg>
</body></html>
